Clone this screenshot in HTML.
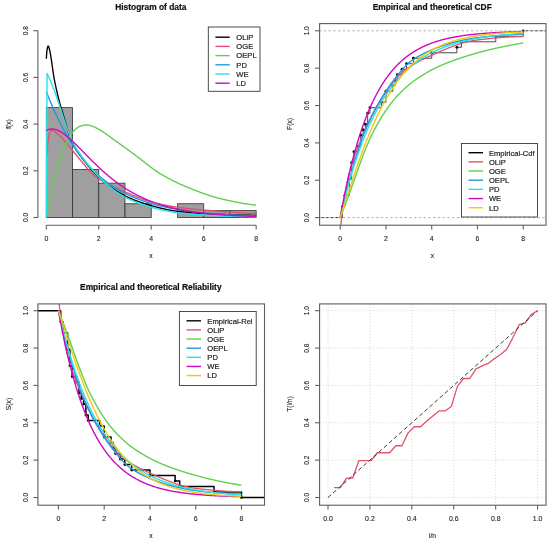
<!DOCTYPE html>
<html lang="en"><head><meta charset="utf-8"><title>Model fit plots</title>
<style>html,body{margin:0;padding:0;background:#fff}svg{display:block;filter:blur(0.35px)}</style></head>
<body>
<svg width="550" height="542" viewBox="0 0 550 542" font-family='"Liberation Sans", Arial, sans-serif'>
<rect width="550" height="542" fill="#ffffff"/>
<defs>
<clipPath id="c1"><rect x="37.9" y="23.6" width="226.6" height="201.7"/></clipPath>
<clipPath id="c2"><rect x="319.6" y="23.6" width="226.4" height="201.6"/></clipPath>
<clipPath id="c3"><rect x="37.9" y="303.9" width="226.6" height="201.3"/></clipPath>
<clipPath id="c4"><rect x="319.6" y="303.9" width="226.4" height="201.3"/></clipPath>
</defs>
<text transform="translate(150.8 10.2)" font-size="8.4" text-anchor="middle" font-weight="bold" fill="#111111" stroke="#111111" stroke-width="0.2">Histogram of data</text>
<rect x="46.3" y="107.62" width="26.23" height="109.88" fill="#9f9f9f" stroke="#303030" stroke-width="0.8"/>
<rect x="72.53" y="169.43" width="26.23" height="48.07" fill="#9f9f9f" stroke="#303030" stroke-width="0.8"/>
<rect x="98.76" y="183.16" width="26.23" height="34.34" fill="#9f9f9f" stroke="#303030" stroke-width="0.8"/>
<rect x="124.99" y="203.76" width="26.23" height="13.74" fill="#9f9f9f" stroke="#303030" stroke-width="0.8"/>
<rect x="177.45" y="203.76" width="26.23" height="13.74" fill="#9f9f9f" stroke="#303030" stroke-width="0.8"/>
<rect x="203.68" y="210.63" width="26.23" height="6.87" fill="#9f9f9f" stroke="#303030" stroke-width="0.8"/>
<rect x="229.91" y="210.63" width="26.23" height="6.87" fill="#9f9f9f" stroke="#303030" stroke-width="0.8"/>
<path d="M46.3,58.72L46.82,51.55L47.35,48.04L47.87,46.16L48.4,46.1L48.92,47.49L49.45,49.38L49.97,51.57L50.5,54.36L51.02,57.59L51.55,61.12L52.07,64.79L52.6,68.49L53.12,72.09L53.64,75.48L54.17,78.57L54.69,81.31L55.22,83.91L55.74,86.42L56.27,88.84L56.79,91.19L57.32,93.45L57.84,95.64L58.37,97.76L58.89,99.82L59.41,101.78L59.94,103.64L60.46,105.43L60.99,107.19L61.51,108.92L62.04,110.66L62.56,112.42L63.09,114.23L63.61,116.06L64.14,117.9L64.66,119.76L65.19,121.6L65.71,123.44L66.23,125.25L66.76,127.04L67.28,128.79L67.81,130.51L68.33,132.17L68.86,133.78L69.38,135.34L69.91,136.83L70.43,138.26L70.96,139.62L71.48,140.9L72.01,142.12L72.53,143.25L73.05,144.32L73.58,145.34L74.1,146.32L74.63,147.27L75.15,148.18L75.68,149.06L76.2,149.91L76.73,150.73L77.25,151.53L77.78,152.31L78.3,153.07L78.83,153.81L79.35,154.53L79.87,155.24L80.4,155.94L80.92,156.63L81.45,157.31L81.97,157.98L82.5,158.65L83.02,159.31L83.55,159.97L84.07,160.64L84.6,161.3L85.12,161.96L85.64,162.63L86.17,163.29L86.69,163.95L87.22,164.6L87.74,165.24L88.27,165.87L88.79,166.5L89.32,167.12L89.84,167.73L90.37,168.34L90.89,168.93L91.42,169.52L91.94,170.11L92.46,170.69L92.99,171.26L93.51,171.82L94.04,172.38L94.56,172.93L95.09,173.47L95.61,174.01L96.14,174.54L96.66,175.07L97.19,175.58L97.71,176.1L98.24,176.6L98.76,177.1L99.28,177.6L99.81,178.09L100.33,178.57L100.86,179.05L101.38,179.53L101.91,179.99L102.43,180.46L102.96,180.91L103.48,181.36L104.01,181.81L104.53,182.25L105.06,182.69L105.58,183.12L106.1,183.55L106.63,183.97L107.15,184.38L107.68,184.79L108.2,185.2L108.73,185.6L109.25,186L109.78,186.39L110.3,186.77L110.83,187.15L111.35,187.53L111.88,187.9L112.4,188.27L112.92,188.63L113.45,188.99L113.97,189.34L114.5,189.69L115.02,190.04L115.55,190.38L116.07,190.71L116.6,191.04L117.12,191.37L117.65,191.69L118.17,192.01L118.69,192.33L119.22,192.64L119.74,192.94L120.27,193.24L120.79,193.54L121.32,193.84L121.84,194.13L122.37,194.41L122.89,194.69L123.42,194.97L123.94,195.25L124.47,195.52L124.99,195.78L125.51,196.05L126.04,196.31L126.56,196.56L127.09,196.81L127.61,197.06L128.14,197.31L128.66,197.55L129.19,197.79L129.71,198.02L130.24,198.25L130.76,198.48L131.29,198.71L131.81,198.93L132.33,199.15L132.86,199.36L133.38,199.58L133.91,199.79L134.43,200L134.96,200.2L135.48,200.41L136.01,200.61L136.53,200.81L137.06,201L137.58,201.2L138.11,201.39L138.63,201.58L139.15,201.77L139.68,201.95L140.2,202.14L140.73,202.32L141.25,202.5L141.78,202.68L142.3,202.85L142.83,203.03L143.35,203.2L143.88,203.37L144.4,203.54L144.92,203.7L145.45,203.87L145.97,204.03L146.5,204.2L147.02,204.36L147.55,204.52L148.07,204.67L148.6,204.83L149.12,204.99L149.65,205.14L150.17,205.29L150.7,205.44L151.22,205.59L151.74,205.74L152.27,205.89L152.79,206.04L153.32,206.18L153.84,206.33L154.37,206.48L154.89,206.62L155.42,206.77L155.94,206.91L156.47,207.05L156.99,207.19L157.52,207.33L158.04,207.47L158.56,207.61L159.09,207.74L159.61,207.87L160.14,208.01L160.66,208.14L161.19,208.27L161.71,208.39L162.24,208.52L162.76,208.64L163.29,208.76L163.81,208.88L164.33,209L164.86,209.12L165.38,209.23L165.91,209.34L166.43,209.45L166.96,209.56L167.48,209.67L168.01,209.77L168.53,209.87L169.06,209.97L169.58,210.07L170.11,210.17L170.63,210.26L171.15,210.35L171.68,210.44L172.2,210.53L172.73,210.61L173.25,210.7L173.78,210.78L174.3,210.86L174.83,210.93L175.35,211.01L175.88,211.08L176.4,211.15L176.93,211.22L177.45,211.29L177.97,211.35L178.5,211.42L179.02,211.48L179.55,211.54L180.07,211.6L180.6,211.66L181.12,211.72L181.65,211.78L182.17,211.84L182.7,211.89L183.22,211.95L183.75,212L184.27,212.05L184.79,212.11L185.32,212.16L185.84,212.21L186.37,212.26L186.89,212.31L187.42,212.36L187.94,212.4L188.47,212.45L188.99,212.49L189.52,212.54L190.04,212.58L190.56,212.63L191.09,212.67L191.61,212.71L192.14,212.75L192.66,212.8L193.19,212.84L193.71,212.88L194.24,212.91L194.76,212.95L195.29,212.99L195.81,213.03L196.34,213.07L196.86,213.1L197.38,213.14L197.91,213.17L198.43,213.21L198.96,213.24L199.48,213.28L200.01,213.31L200.53,213.34L201.06,213.37L201.58,213.41L202.11,213.44L202.63,213.47L203.16,213.5L203.68,213.53L204.2,213.56L204.73,213.59L205.25,213.62L205.78,213.65L206.3,213.68L206.83,213.71L207.35,213.73L207.88,213.76L208.4,213.79L208.93,213.82L209.45,213.84L209.98,213.87L210.5,213.9L211.02,213.92L211.55,213.95L212.07,213.98L212.6,214L213.12,214.03L213.65,214.05L214.17,214.08L214.7,214.1L215.22,214.13L215.75,214.15L216.27,214.17L216.8,214.2L217.32,214.22L217.84,214.25L218.37,214.27L218.89,214.29L219.42,214.31L219.94,214.34L220.47,214.36L220.99,214.38L221.52,214.4L222.04,214.42L222.57,214.44L223.09,214.46L223.61,214.48L224.14,214.51L224.66,214.53L225.19,214.55L225.71,214.57L226.24,214.58L226.76,214.6L227.29,214.62L227.81,214.64L228.34,214.66L228.86,214.68L229.39,214.7L229.91,214.72L230.43,214.73L230.96,214.75L231.48,214.77L232.01,214.79L232.53,214.8L233.06,214.82L233.58,214.84L234.11,214.85L234.63,214.87L235.16,214.89L235.68,214.9L236.21,214.92L236.73,214.93L237.25,214.95L237.78,214.97L238.3,214.98L238.83,215L239.35,215.01L239.88,215.03L240.4,215.04L240.93,215.05L241.45,215.07L241.98,215.08L242.5,215.1L243.02,215.11L243.55,215.12L244.07,215.14L244.6,215.15L245.12,215.16L245.65,215.17L246.17,215.19L246.7,215.2L247.22,215.21L247.75,215.22L248.27,215.24L248.8,215.25L249.32,215.26L249.84,215.27L250.37,215.28L250.89,215.29L251.42,215.31L251.94,215.32L252.47,215.33L252.99,215.34L253.52,215.35L254.04,215.36L254.57,215.37L255.09,215.38L255.62,215.39L256.14,215.4" fill="none" stroke="#000000" stroke-width="1.35" stroke-linejoin="round" stroke-linecap="butt"/>
<path d="M47.09,154.45L47.61,144.76L48.13,139.58L48.66,136.35L49.18,134.17L49.71,132.85L50.23,131.77L50.75,130.94L51.28,130.47L51.8,130.42L52.33,130.5L52.85,130.66L53.37,130.88L53.9,131.14L54.42,131.43L54.95,131.73L55.47,132.03L55.99,132.35L56.52,132.72L57.04,133.12L57.57,133.57L58.09,134.05L58.61,134.55L59.14,135.08L59.66,135.62L60.19,136.17L60.71,136.73L61.23,137.28L61.76,137.82L62.28,138.36L62.81,138.9L63.33,139.46L63.85,140.03L64.38,140.61L64.9,141.19L65.42,141.79L65.95,142.39L66.47,143L67,143.61L67.52,144.23L68.04,144.86L68.57,145.5L69.09,146.15L69.62,146.81L70.14,147.48L70.66,148.14L71.19,148.81L71.71,149.47L72.24,150.12L72.76,150.77L73.28,151.41L73.81,152.06L74.33,152.7L74.86,153.34L75.38,153.98L75.9,154.63L76.43,155.27L76.95,155.9L77.48,156.54L78,157.18L78.52,157.82L79.05,158.45L79.57,159.09L80.1,159.72L80.62,160.35L81.14,160.98L81.67,161.62L82.19,162.24L82.71,162.87L83.24,163.5L83.76,164.13L84.29,164.75L84.81,165.39L85.33,166.04L85.86,166.69L86.38,167.35L86.91,168L87.43,168.65L87.95,169.3L88.48,169.93L89,170.55L89.53,171.16L90.05,171.74L90.57,172.3L91.1,172.83L91.62,173.33L92.15,173.82L92.67,174.29L93.19,174.76L93.72,175.21L94.24,175.65L94.77,176.08L95.29,176.5L95.81,176.91L96.34,177.3L96.86,177.69L97.39,178.06L97.91,178.42L98.43,178.76L98.96,179.1L99.48,179.43L100.01,179.75L100.53,180.07L101.05,180.38L101.58,180.69L102.1,181L102.62,181.3L103.15,181.6L103.67,181.89L104.2,182.18L104.72,182.47L105.24,182.75L105.77,183.03L106.29,183.3L106.82,183.57L107.34,183.84L107.86,184.11L108.39,184.37L108.91,184.63L109.44,184.89L109.96,185.14L110.48,185.4L111.01,185.65L111.53,185.89L112.06,186.14L112.58,186.38L113.1,186.62L113.63,186.86L114.15,187.1L114.68,187.34L115.2,187.57L115.72,187.81L116.25,188.04L116.77,188.27L117.3,188.5L117.82,188.73L118.34,188.95L118.87,189.18L119.39,189.41L119.91,189.63L120.44,189.86L120.96,190.08L121.49,190.31L122.01,190.53L122.53,190.76L123.06,190.98L123.58,191.21L124.11,191.43L124.63,191.66L125.15,191.89L125.68,192.11L126.2,192.34L126.73,192.57L127.25,192.8L127.77,193.03L128.3,193.26L128.82,193.48L129.35,193.71L129.87,193.94L130.39,194.17L130.92,194.4L131.44,194.63L131.97,194.85L132.49,195.08L133.01,195.31L133.54,195.53L134.06,195.76L134.59,195.98L135.11,196.2L135.63,196.42L136.16,196.64L136.68,196.86L137.21,197.08L137.73,197.29L138.25,197.51L138.78,197.72L139.3,197.93L139.82,198.14L140.35,198.34L140.87,198.54L141.4,198.75L141.92,198.94L142.44,199.14L142.97,199.33L143.49,199.53L144.02,199.71L144.54,199.9L145.06,200.08L145.59,200.26L146.11,200.44L146.64,200.61L147.16,200.78L147.68,200.95L148.21,201.11L148.73,201.27L149.26,201.42L149.78,201.58L150.3,201.72L150.83,201.87L151.35,202.01L151.88,202.14L152.4,202.28L152.92,202.41L153.45,202.55L153.97,202.68L154.5,202.81L155.02,202.94L155.54,203.07L156.07,203.19L156.59,203.32L157.11,203.44L157.64,203.56L158.16,203.68L158.69,203.8L159.21,203.92L159.73,204.04L160.26,204.15L160.78,204.27L161.31,204.38L161.83,204.49L162.35,204.6L162.88,204.71L163.4,204.82L163.93,204.93L164.45,205.03L164.97,205.13L165.5,205.24L166.02,205.34L166.55,205.44L167.07,205.54L167.59,205.63L168.12,205.73L168.64,205.82L169.17,205.92L169.69,206.01L170.21,206.1L170.74,206.19L171.26,206.28L171.79,206.36L172.31,206.45L172.83,206.54L173.36,206.62L173.88,206.7L174.4,206.78L174.93,206.86L175.45,206.94L175.98,207.02L176.5,207.09L177.02,207.17L177.55,207.24L178.07,207.31L178.6,207.38L179.12,207.45L179.64,207.52L180.17,207.59L180.69,207.66L181.22,207.73L181.74,207.79L182.26,207.86L182.79,207.92L183.31,207.99L183.84,208.05L184.36,208.11L184.88,208.18L185.41,208.24L185.93,208.3L186.46,208.36L186.98,208.42L187.5,208.47L188.03,208.53L188.55,208.59L189.08,208.64L189.6,208.7L190.12,208.76L190.65,208.81L191.17,208.86L191.7,208.92L192.22,208.97L192.74,209.02L193.27,209.07L193.79,209.13L194.31,209.18L194.84,209.23L195.36,209.28L195.89,209.33L196.41,209.38L196.93,209.43L197.46,209.47L197.98,209.52L198.51,209.57L199.03,209.62L199.55,209.67L200.08,209.71L200.6,209.76L201.13,209.81L201.65,209.85L202.17,209.9L202.7,209.94L203.22,209.99L203.75,210.03L204.27,210.08L204.79,210.12L205.32,210.17L205.84,210.21L206.37,210.26L206.89,210.3L207.41,210.35L207.94,210.39L208.46,210.44L208.99,210.48L209.51,210.52L210.03,210.57L210.56,210.61L211.08,210.66L211.6,210.7L212.13,210.74L212.65,210.79L213.18,210.83L213.7,210.87L214.22,210.92L214.75,210.96L215.27,211L215.8,211.04L216.32,211.09L216.84,211.13L217.37,211.17L217.89,211.21L218.42,211.25L218.94,211.29L219.46,211.34L219.99,211.38L220.51,211.42L221.04,211.46L221.56,211.5L222.08,211.54L222.61,211.58L223.13,211.62L223.66,211.66L224.18,211.7L224.7,211.74L225.23,211.78L225.75,211.82L226.28,211.86L226.8,211.9L227.32,211.94L227.85,211.97L228.37,212.01L228.89,212.05L229.42,212.09L229.94,212.13L230.47,212.16L230.99,212.2L231.51,212.24L232.04,212.27L232.56,212.31L233.09,212.35L233.61,212.38L234.13,212.42L234.66,212.45L235.18,212.49L235.71,212.52L236.23,212.56L236.75,212.59L237.28,212.63L237.8,212.66L238.33,212.69L238.85,212.73L239.37,212.76L239.9,212.79L240.42,212.83L240.95,212.86L241.47,212.89L241.99,212.92L242.52,212.95L243.04,212.99L243.57,213.02L244.09,213.05L244.61,213.08L245.14,213.11L245.66,213.14L246.19,213.17L246.71,213.2L247.23,213.23L247.76,213.25L248.28,213.28L248.8,213.31L249.33,213.34L249.85,213.37L250.38,213.39L250.9,213.42L251.42,213.45L251.95,213.47L252.47,213.5L253,213.52L253.52,213.55L254.04,213.57L254.57,213.6L255.09,213.62L255.62,213.65L256.14,213.67" fill="none" stroke="#DF536B" stroke-width="1.4" stroke-linejoin="round" stroke-linecap="butt"/>
<path d="M46.3,217.5L46.82,214.78L47.35,212.1L47.87,209.44L48.4,206.82L48.92,204.23L49.45,201.67L49.97,199.15L50.5,196.67L51.02,194.22L51.55,191.81L52.07,189.42L52.6,187L53.12,184.59L53.64,182.2L54.17,179.84L54.69,177.52L55.22,175.27L55.74,173.1L56.27,171.02L56.79,169.05L57.32,167.21L57.84,165.49L58.37,163.81L58.89,162.18L59.41,160.59L59.94,159.04L60.46,157.53L60.99,156.06L61.51,154.62L62.04,153.23L62.56,151.87L63.09,150.55L63.61,149.26L64.14,148L64.66,146.78L65.19,145.59L65.71,144.44L66.23,143.31L66.76,142.21L67.28,141.15L67.81,140.1L68.33,139.06L68.86,138.04L69.38,137.05L69.91,136.11L70.43,135.21L70.96,134.36L71.48,133.59L72.01,132.89L72.53,132.27L73.05,131.71L73.58,131.16L74.1,130.63L74.63,130.11L75.15,129.62L75.68,129.14L76.2,128.69L76.73,128.27L77.25,127.88L77.78,127.51L78.3,127.18L78.83,126.88L79.35,126.61L79.87,126.39L80.4,126.2L80.92,126.04L81.45,125.88L81.97,125.72L82.5,125.57L83.02,125.44L83.55,125.31L84.07,125.2L84.6,125.1L85.12,125.02L85.64,124.97L86.17,124.93L86.69,124.92L87.22,124.93L87.74,124.98L88.27,125.06L88.79,125.16L89.32,125.28L89.84,125.42L90.37,125.58L90.89,125.75L91.42,125.93L91.94,126.11L92.46,126.3L92.99,126.48L93.51,126.67L94.04,126.86L94.56,127.07L95.09,127.31L95.61,127.56L96.14,127.82L96.66,128.1L97.19,128.39L97.71,128.69L98.24,129L98.76,129.31L99.28,129.62L99.81,129.94L100.33,130.25L100.86,130.56L101.38,130.88L101.91,131.2L102.43,131.54L102.96,131.87L103.48,132.22L104.01,132.57L104.53,132.92L105.06,133.28L105.58,133.64L106.1,134.01L106.63,134.38L107.15,134.76L107.68,135.13L108.2,135.51L108.73,135.89L109.25,136.28L109.78,136.66L110.3,137.05L110.83,137.43L111.35,137.82L111.88,138.2L112.4,138.59L112.92,138.97L113.45,139.36L113.97,139.74L114.5,140.12L115.02,140.49L115.55,140.87L116.07,141.24L116.6,141.61L117.12,141.99L117.65,142.36L118.17,142.74L118.69,143.11L119.22,143.49L119.74,143.87L120.27,144.24L120.79,144.62L121.32,145L121.84,145.38L122.37,145.75L122.89,146.13L123.42,146.51L123.94,146.89L124.47,147.27L124.99,147.65L125.51,148.03L126.04,148.41L126.56,148.79L127.09,149.18L127.61,149.56L128.14,149.94L128.66,150.32L129.19,150.7L129.71,151.09L130.24,151.47L130.76,151.85L131.29,152.24L131.81,152.62L132.33,153L132.86,153.39L133.38,153.77L133.91,154.15L134.43,154.54L134.96,154.92L135.48,155.31L136.01,155.7L136.53,156.09L137.06,156.48L137.58,156.88L138.11,157.28L138.63,157.69L139.15,158.09L139.68,158.5L140.2,158.9L140.73,159.31L141.25,159.73L141.78,160.14L142.3,160.55L142.83,160.96L143.35,161.38L143.88,161.79L144.4,162.2L144.92,162.62L145.45,163.03L145.97,163.44L146.5,163.86L147.02,164.27L147.55,164.68L148.07,165.08L148.6,165.49L149.12,165.9L149.65,166.3L150.17,166.7L150.7,167.1L151.22,167.49L151.74,167.88L152.27,168.27L152.79,168.66L153.32,169.04L153.84,169.42L154.37,169.79L154.89,170.17L155.42,170.53L155.94,170.89L156.47,171.25L156.99,171.6L157.52,171.95L158.04,172.29L158.56,172.63L159.09,172.96L159.61,173.28L160.14,173.6L160.66,173.92L161.19,174.23L161.71,174.54L162.24,174.85L162.76,175.15L163.29,175.45L163.81,175.75L164.33,176.05L164.86,176.35L165.38,176.64L165.91,176.94L166.43,177.23L166.96,177.52L167.48,177.8L168.01,178.09L168.53,178.37L169.06,178.65L169.58,178.92L170.11,179.2L170.63,179.47L171.15,179.74L171.68,180.01L172.2,180.28L172.73,180.55L173.25,180.81L173.78,181.07L174.3,181.33L174.83,181.59L175.35,181.84L175.88,182.1L176.4,182.35L176.93,182.6L177.45,182.85L177.97,183.09L178.5,183.34L179.02,183.58L179.55,183.82L180.07,184.06L180.6,184.29L181.12,184.53L181.65,184.76L182.17,184.99L182.7,185.22L183.22,185.45L183.75,185.67L184.27,185.89L184.79,186.12L185.32,186.34L185.84,186.55L186.37,186.77L186.89,186.99L187.42,187.2L187.94,187.42L188.47,187.64L188.99,187.85L189.52,188.07L190.04,188.28L190.56,188.49L191.09,188.7L191.61,188.92L192.14,189.13L192.66,189.34L193.19,189.55L193.71,189.75L194.24,189.96L194.76,190.17L195.29,190.37L195.81,190.58L196.34,190.78L196.86,190.99L197.38,191.19L197.91,191.39L198.43,191.59L198.96,191.79L199.48,191.98L200.01,192.18L200.53,192.38L201.06,192.57L201.58,192.76L202.11,192.95L202.63,193.14L203.16,193.33L203.68,193.52L204.2,193.71L204.73,193.89L205.25,194.07L205.78,194.26L206.3,194.44L206.83,194.61L207.35,194.79L207.88,194.97L208.4,195.14L208.93,195.31L209.45,195.48L209.98,195.65L210.5,195.82L211.02,195.98L211.55,196.15L212.07,196.31L212.6,196.47L213.12,196.63L213.65,196.78L214.17,196.94L214.7,197.09L215.22,197.24L215.75,197.39L216.27,197.54L216.8,197.68L217.32,197.82L217.84,197.96L218.37,198.1L218.89,198.24L219.42,198.37L219.94,198.5L220.47,198.63L220.99,198.76L221.52,198.88L222.04,199.01L222.57,199.13L223.09,199.25L223.61,199.38L224.14,199.5L224.66,199.62L225.19,199.74L225.71,199.86L226.24,199.98L226.76,200.1L227.29,200.21L227.81,200.33L228.34,200.45L228.86,200.56L229.39,200.68L229.91,200.79L230.43,200.91L230.96,201.02L231.48,201.13L232.01,201.24L232.53,201.35L233.06,201.46L233.58,201.57L234.11,201.68L234.63,201.79L235.16,201.89L235.68,202L236.21,202.1L236.73,202.2L237.25,202.3L237.78,202.4L238.3,202.5L238.83,202.6L239.35,202.7L239.88,202.8L240.4,202.89L240.93,202.98L241.45,203.08L241.98,203.17L242.5,203.26L243.02,203.35L243.55,203.44L244.07,203.52L244.6,203.61L245.12,203.69L245.65,203.77L246.17,203.86L246.7,203.94L247.22,204.01L247.75,204.09L248.27,204.17L248.8,204.24L249.32,204.32L249.84,204.39L250.37,204.46L250.89,204.53L251.42,204.59L251.94,204.66L252.47,204.72L252.99,204.78L253.52,204.85L254.04,204.9L254.57,204.96L255.09,205.02L255.62,205.07L256.14,205.12" fill="none" stroke="#61D04F" stroke-width="1.4" stroke-linejoin="round" stroke-linecap="butt"/>
<path d="M46.3,91.41L46.82,92.79L47.35,94.15L47.87,95.5L48.4,96.84L48.92,98.16L49.45,99.46L49.97,100.75L50.5,102.03L51.02,103.29L51.55,104.54L52.07,105.78L52.6,107L53.12,108.21L53.64,109.41L54.17,110.59L54.69,111.76L55.22,112.92L55.74,114.06L56.27,115.19L56.79,116.31L57.32,117.42L57.84,118.51L58.37,119.6L58.89,120.67L59.41,121.73L59.94,122.77L60.46,123.81L60.99,124.83L61.51,125.85L62.04,126.85L62.56,127.84L63.09,128.82L63.61,129.79L64.14,130.75L64.66,131.7L65.19,132.64L65.71,133.57L66.23,134.49L66.76,135.4L67.28,136.29L67.81,137.18L68.33,138.06L68.86,138.93L69.38,139.79L69.91,140.64L70.43,141.48L70.96,142.31L71.48,143.13L72.01,143.95L72.53,144.75L73.05,145.55L73.58,146.34L74.1,147.11L74.63,147.88L75.15,148.65L75.68,149.4L76.2,150.14L76.73,150.88L77.25,151.61L77.78,152.33L78.3,153.04L78.83,153.75L79.35,154.45L79.87,155.14L80.4,155.82L80.92,156.49L81.45,157.16L81.97,157.82L82.5,158.47L83.02,159.12L83.55,159.76L84.07,160.39L84.6,161.01L85.12,161.63L85.64,162.24L86.17,162.85L86.69,163.45L87.22,164.04L87.74,164.62L88.27,165.2L88.79,165.77L89.32,166.34L89.84,166.9L90.37,167.45L90.89,168L91.42,168.54L91.94,169.08L92.46,169.61L92.99,170.13L93.51,170.65L94.04,171.16L94.56,171.67L95.09,172.17L95.61,172.66L96.14,173.16L96.66,173.64L97.19,174.12L97.71,174.59L98.24,175.06L98.76,175.53L99.28,175.99L99.81,176.44L100.33,176.89L100.86,177.34L101.38,177.77L101.91,178.21L102.43,178.64L102.96,179.06L103.48,179.48L104.01,179.9L104.53,180.31L105.06,180.72L105.58,181.12L106.1,181.52L106.63,181.91L107.15,182.3L107.68,182.69L108.2,183.07L108.73,183.44L109.25,183.82L109.78,184.19L110.3,184.55L110.83,184.91L111.35,185.27L111.88,185.62L112.4,185.97L112.92,186.31L113.45,186.65L113.97,186.99L114.5,187.33L115.02,187.66L115.55,187.98L116.07,188.31L116.6,188.62L117.12,188.94L117.65,189.25L118.17,189.56L118.69,189.87L119.22,190.17L119.74,190.47L120.27,190.76L120.79,191.06L121.32,191.35L121.84,191.63L122.37,191.92L122.89,192.2L123.42,192.47L123.94,192.75L124.47,193.02L124.99,193.28L125.51,193.55L126.04,193.81L126.56,194.07L127.09,194.33L127.61,194.58L128.14,194.83L128.66,195.08L129.19,195.32L129.71,195.57L130.24,195.81L130.76,196.04L131.29,196.28L131.81,196.51L132.33,196.74L132.86,196.97L133.38,197.19L133.91,197.41L134.43,197.63L134.96,197.85L135.48,198.07L136.01,198.28L136.53,198.49L137.06,198.7L137.58,198.9L138.11,199.11L138.63,199.31L139.15,199.51L139.68,199.7L140.2,199.9L140.73,200.09L141.25,200.28L141.78,200.47L142.3,200.66L142.83,200.84L143.35,201.02L143.88,201.2L144.4,201.38L144.92,201.56L145.45,201.73L145.97,201.9L146.5,202.07L147.02,202.24L147.55,202.41L148.07,202.58L148.6,202.74L149.12,202.9L149.65,203.06L150.17,203.22L150.7,203.37L151.22,203.53L151.74,203.68L152.27,203.83L152.79,203.98L153.32,204.13L153.84,204.28L154.37,204.42L154.89,204.56L155.42,204.71L155.94,204.85L156.47,204.98L156.99,205.12L157.52,205.26L158.04,205.39L158.56,205.52L159.09,205.65L159.61,205.78L160.14,205.91L160.66,206.04L161.19,206.16L161.71,206.29L162.24,206.41L162.76,206.53L163.29,206.65L163.81,206.77L164.33,206.89L164.86,207L165.38,207.12L165.91,207.23L166.43,207.34L166.96,207.46L167.48,207.57L168.01,207.67L168.53,207.78L169.06,207.89L169.58,207.99L170.11,208.1L170.63,208.2L171.15,208.3L171.68,208.4L172.2,208.5L172.73,208.6L173.25,208.7L173.78,208.79L174.3,208.89L174.83,208.98L175.35,209.08L175.88,209.17L176.4,209.26L176.93,209.35L177.45,209.44L177.97,209.53L178.5,209.61L179.02,209.7L179.55,209.79L180.07,209.87L180.6,209.95L181.12,210.04L181.65,210.12L182.17,210.2L182.7,210.28L183.22,210.36L183.75,210.44L184.27,210.51L184.79,210.59L185.32,210.67L185.84,210.74L186.37,210.81L186.89,210.89L187.42,210.96L187.94,211.03L188.47,211.1L188.99,211.17L189.52,211.24L190.04,211.31L190.56,211.38L191.09,211.44L191.61,211.51L192.14,211.58L192.66,211.64L193.19,211.7L193.71,211.77L194.24,211.83L194.76,211.89L195.29,211.95L195.81,212.02L196.34,212.08L196.86,212.13L197.38,212.19L197.91,212.25L198.43,212.31L198.96,212.37L199.48,212.42L200.01,212.48L200.53,212.53L201.06,212.59L201.58,212.64L202.11,212.69L202.63,212.75L203.16,212.8L203.68,212.85L204.2,212.9L204.73,212.95L205.25,213L205.78,213.05L206.3,213.1L206.83,213.15L207.35,213.19L207.88,213.24L208.4,213.29L208.93,213.33L209.45,213.38L209.98,213.42L210.5,213.47L211.02,213.51L211.55,213.56L212.07,213.6L212.6,213.64L213.12,213.68L213.65,213.73L214.17,213.77L214.7,213.81L215.22,213.85L215.75,213.89L216.27,213.93L216.8,213.97L217.32,214.01L217.84,214.04L218.37,214.08L218.89,214.12L219.42,214.16L219.94,214.19L220.47,214.23L220.99,214.27L221.52,214.3L222.04,214.34L222.57,214.37L223.09,214.4L223.61,214.44L224.14,214.47L224.66,214.5L225.19,214.54L225.71,214.57L226.24,214.6L226.76,214.63L227.29,214.67L227.81,214.7L228.34,214.73L228.86,214.76L229.39,214.79L229.91,214.82L230.43,214.85L230.96,214.88L231.48,214.9L232.01,214.93L232.53,214.96L233.06,214.99L233.58,215.02L234.11,215.04L234.63,215.07L235.16,215.1L235.68,215.12L236.21,215.15L236.73,215.17L237.25,215.2L237.78,215.22L238.3,215.25L238.83,215.27L239.35,215.3L239.88,215.32L240.4,215.35L240.93,215.37L241.45,215.39L241.98,215.42L242.5,215.44L243.02,215.46L243.55,215.48L244.07,215.51L244.6,215.53L245.12,215.55L245.65,215.57L246.17,215.59L246.7,215.61L247.22,215.63L247.75,215.65L248.27,215.67L248.8,215.69L249.32,215.71L249.84,215.73L250.37,215.75L250.89,215.77L251.42,215.79L251.94,215.81L252.47,215.83L252.99,215.85L253.52,215.86L254.04,215.88L254.57,215.9L255.09,215.92L255.62,215.93L256.14,215.95" fill="none" stroke="#2297E6" stroke-width="1.4" stroke-linejoin="round" stroke-linecap="butt"/>
<path d="M46.3,217.5L47.09,73.43L47.61,74.5L48.31,75.99L49.01,77.53L49.7,79.13L50.4,80.77L51.1,82.46L51.8,84.18L52.49,85.94L53.19,87.72L53.89,89.51L54.59,91.34L55.28,93.22L55.98,95.16L56.68,97.14L57.38,99.15L58.07,101.2L58.77,103.26L59.47,105.33L60.17,107.41L60.86,109.52L61.56,111.71L62.26,113.93L62.95,116.17L63.65,118.39L64.35,120.56L65.05,122.66L65.74,124.66L66.44,126.61L67.14,128.54L67.84,130.43L68.53,132.28L69.23,134.08L69.93,135.81L70.63,137.48L71.32,139.07L72.02,140.57L72.72,141.99L73.42,143.33L74.11,144.62L74.81,145.86L75.51,147.05L76.21,148.2L76.9,149.31L77.6,150.38L78.3,151.43L79,152.45L79.69,153.45L80.39,154.42L81.09,155.38L81.79,156.33L82.48,157.27L83.18,158.2L83.88,159.12L84.57,160.05L85.27,160.97L85.97,161.89L86.67,162.8L87.36,163.69L88.06,164.57L88.76,165.43L89.46,166.29L90.15,167.13L90.85,167.96L91.55,168.77L92.25,169.58L92.94,170.38L93.64,171.16L94.34,171.94L95.04,172.7L95.73,173.46L96.43,174.21L97.13,174.94L97.83,175.67L98.52,176.39L99.22,177.11L99.92,177.81L100.62,178.51L101.31,179.2L102.01,179.88L102.71,180.55L103.41,181.21L104.1,181.86L104.8,182.5L105.5,183.13L106.19,183.76L106.89,184.37L107.59,184.98L108.29,185.57L108.98,186.16L109.68,186.74L110.38,187.3L111.08,187.86L111.77,188.41L112.47,188.95L113.17,189.48L113.87,190L114.56,190.51L115.26,191.01L115.96,191.5L116.66,191.98L117.35,192.46L118.05,192.92L118.75,193.38L119.45,193.82L120.14,194.26L120.84,194.69L121.54,195.11L122.24,195.52L122.93,195.93L123.63,196.32L124.33,196.71L125.03,197.09L125.72,197.46L126.42,197.82L127.12,198.18L127.81,198.52L128.51,198.87L129.21,199.2L129.91,199.53L130.6,199.85L131.3,200.16L132,200.47L132.7,200.78L133.39,201.07L134.09,201.37L134.79,201.65L135.49,201.93L136.18,202.21L136.88,202.48L137.58,202.75L138.28,203.02L138.97,203.27L139.67,203.53L140.37,203.78L141.07,204.03L141.76,204.27L142.46,204.51L143.16,204.74L143.86,204.98L144.55,205.2L145.25,205.43L145.95,205.65L146.65,205.87L147.34,206.08L148.04,206.3L148.74,206.5L149.43,206.71L150.13,206.91L150.83,207.11L151.53,207.31L152.22,207.51L152.92,207.7L153.62,207.89L154.32,208.08L155.01,208.27L155.71,208.46L156.41,208.64L157.11,208.82L157.8,208.99L158.5,209.17L159.2,209.34L159.9,209.51L160.59,209.67L161.29,209.84L161.99,209.99L162.69,210.15L163.38,210.3L164.08,210.45L164.78,210.6L165.48,210.74L166.17,210.88L166.87,211.02L167.57,211.15L168.27,211.28L168.96,211.41L169.66,211.53L170.36,211.65L171.05,211.77L171.75,211.89L172.45,212L173.15,212.11L173.84,212.21L174.54,212.32L175.24,212.42L175.94,212.51L176.63,212.61L177.33,212.7L178.03,212.79L178.73,212.87L179.42,212.96L180.12,213.04L180.82,213.12L181.52,213.2L182.21,213.27L182.91,213.35L183.61,213.42L184.31,213.49L185,213.56L185.7,213.63L186.4,213.7L187.1,213.76L187.79,213.83L188.49,213.89L189.19,213.95L189.89,214.01L190.58,214.07L191.28,214.13L191.98,214.18L192.67,214.24L193.37,214.29L194.07,214.35L194.77,214.4L195.46,214.45L196.16,214.5L196.86,214.55L197.56,214.6L198.25,214.65L198.95,214.7L199.65,214.74L200.35,214.79L201.04,214.84L201.74,214.88L202.44,214.92L203.14,214.97L203.83,215.01L204.53,215.05L205.23,215.09L205.93,215.14L206.62,215.18L207.32,215.21L208.02,215.25L208.72,215.29L209.41,215.33L210.11,215.37L210.81,215.4L211.51,215.44L212.2,215.47L212.9,215.51L213.6,215.54L214.29,215.57L214.99,215.61L215.69,215.64L216.39,215.67L217.08,215.7L217.78,215.73L218.48,215.76L219.18,215.79L219.87,215.82L220.57,215.85L221.27,215.87L221.97,215.9L222.66,215.93L223.36,215.96L224.06,215.98L224.76,216.01L225.45,216.03L226.15,216.06L226.85,216.08L227.55,216.11L228.24,216.13L228.94,216.15L229.64,216.17L230.34,216.2L231.03,216.22L231.73,216.24L232.43,216.26L233.13,216.28L233.82,216.3L234.52,216.32L235.22,216.34L235.91,216.36L236.61,216.38L237.31,216.4L238.01,216.42L238.7,216.44L239.4,216.45L240.1,216.47L240.8,216.49L241.49,216.5L242.19,216.52L242.89,216.54L243.59,216.55L244.28,216.57L244.98,216.58L245.68,216.6L246.38,216.61L247.07,216.63L247.77,216.64L248.47,216.66L249.17,216.67L249.86,216.69L250.56,216.7L251.26,216.71L251.96,216.73L252.65,216.74L253.35,216.75L254.05,216.76L254.75,216.78L255.44,216.79L256.14,216.8" fill="none" stroke="#28E2E5" stroke-width="1.4" stroke-linejoin="round" stroke-linecap="butt"/>
<path d="M46.3,130.58L46.82,130.29L47.35,130.03L47.87,129.81L48.4,129.62L48.92,129.45L49.45,129.32L49.97,129.21L50.5,129.13L51.02,129.07L51.55,129.04L52.07,129.04L52.6,129.06L53.12,129.1L53.64,129.17L54.17,129.25L54.69,129.36L55.22,129.49L55.74,129.63L56.27,129.8L56.79,129.98L57.32,130.18L57.84,130.4L58.37,130.63L58.89,130.88L59.41,131.15L59.94,131.43L60.46,131.72L60.99,132.02L61.51,132.34L62.04,132.68L62.56,133.02L63.09,133.37L63.61,133.74L64.14,134.12L64.66,134.5L65.19,134.9L65.71,135.3L66.23,135.72L66.76,136.14L67.28,136.57L67.81,137.01L68.33,137.46L68.86,137.91L69.38,138.37L69.91,138.83L70.43,139.3L70.96,139.78L71.48,140.26L72.01,140.75L72.53,141.24L73.05,141.74L73.58,142.24L74.1,142.74L74.63,143.25L75.15,143.76L75.68,144.28L76.2,144.79L76.73,145.31L77.25,145.84L77.78,146.36L78.3,146.89L78.83,147.42L79.35,147.95L79.87,148.48L80.4,149.01L80.92,149.54L81.45,150.08L81.97,150.61L82.5,151.15L83.02,151.68L83.55,152.22L84.07,152.76L84.6,153.29L85.12,153.83L85.64,154.37L86.17,154.9L86.69,155.43L87.22,155.97L87.74,156.5L88.27,157.03L88.79,157.56L89.32,158.09L89.84,158.62L90.37,159.15L90.89,159.67L91.42,160.2L91.94,160.72L92.46,161.24L92.99,161.76L93.51,162.28L94.04,162.79L94.56,163.3L95.09,163.81L95.61,164.32L96.14,164.83L96.66,165.33L97.19,165.83L97.71,166.33L98.24,166.83L98.76,167.32L99.28,167.81L99.81,168.3L100.33,168.79L100.86,169.27L101.38,169.75L101.91,170.23L102.43,170.7L102.96,171.17L103.48,171.64L104.01,172.11L104.53,172.57L105.06,173.03L105.58,173.49L106.1,173.94L106.63,174.39L107.15,174.84L107.68,175.28L108.2,175.73L108.73,176.16L109.25,176.6L109.78,177.03L110.3,177.46L110.83,177.88L111.35,178.31L111.88,178.73L112.4,179.14L112.92,179.55L113.45,179.96L113.97,180.37L114.5,180.77L115.02,181.17L115.55,181.57L116.07,181.96L116.6,182.35L117.12,182.74L117.65,183.12L118.17,183.5L118.69,183.88L119.22,184.25L119.74,184.62L120.27,184.99L120.79,185.35L121.32,185.71L121.84,186.07L122.37,186.43L122.89,186.78L123.42,187.13L123.94,187.47L124.47,187.81L124.99,188.15L125.51,188.49L126.04,188.82L126.56,189.15L127.09,189.47L127.61,189.8L128.14,190.12L128.66,190.43L129.19,190.75L129.71,191.06L130.24,191.37L130.76,191.67L131.29,191.97L131.81,192.27L132.33,192.57L132.86,192.86L133.38,193.15L133.91,193.44L134.43,193.72L134.96,194L135.48,194.28L136.01,194.56L136.53,194.83L137.06,195.1L137.58,195.37L138.11,195.63L138.63,195.89L139.15,196.15L139.68,196.41L140.2,196.66L140.73,196.91L141.25,197.16L141.78,197.41L142.3,197.65L142.83,197.89L143.35,198.13L143.88,198.37L144.4,198.6L144.92,198.83L145.45,199.06L145.97,199.28L146.5,199.51L147.02,199.73L147.55,199.94L148.07,200.16L148.6,200.37L149.12,200.58L149.65,200.79L150.17,201L150.7,201.2L151.22,201.41L151.74,201.61L152.27,201.8L152.79,202L153.32,202.19L153.84,202.38L154.37,202.57L154.89,202.76L155.42,202.94L155.94,203.13L156.47,203.31L156.99,203.48L157.52,203.66L158.04,203.83L158.56,204.01L159.09,204.18L159.61,204.35L160.14,204.51L160.66,204.68L161.19,204.84L161.71,205L162.24,205.16L162.76,205.32L163.29,205.47L163.81,205.62L164.33,205.77L164.86,205.92L165.38,206.07L165.91,206.22L166.43,206.36L166.96,206.51L167.48,206.65L168.01,206.79L168.53,206.92L169.06,207.06L169.58,207.19L170.11,207.33L170.63,207.46L171.15,207.59L171.68,207.72L172.2,207.84L172.73,207.97L173.25,208.09L173.78,208.21L174.3,208.33L174.83,208.45L175.35,208.57L175.88,208.69L176.4,208.8L176.93,208.92L177.45,209.03L177.97,209.14L178.5,209.25L179.02,209.36L179.55,209.46L180.07,209.57L180.6,209.67L181.12,209.78L181.65,209.88L182.17,209.98L182.7,210.08L183.22,210.17L183.75,210.27L184.27,210.37L184.79,210.46L185.32,210.55L185.84,210.64L186.37,210.74L186.89,210.83L187.42,210.91L187.94,211L188.47,211.09L188.99,211.17L189.52,211.26L190.04,211.34L190.56,211.42L191.09,211.5L191.61,211.58L192.14,211.66L192.66,211.74L193.19,211.82L193.71,211.89L194.24,211.97L194.76,212.04L195.29,212.11L195.81,212.19L196.34,212.26L196.86,212.33L197.38,212.4L197.91,212.47L198.43,212.53L198.96,212.6L199.48,212.67L200.01,212.73L200.53,212.8L201.06,212.86L201.58,212.92L202.11,212.98L202.63,213.04L203.16,213.1L203.68,213.16L204.2,213.22L204.73,213.28L205.25,213.34L205.78,213.39L206.3,213.45L206.83,213.51L207.35,213.56L207.88,213.61L208.4,213.67L208.93,213.72L209.45,213.77L209.98,213.82L210.5,213.87L211.02,213.92L211.55,213.97L212.07,214.02L212.6,214.06L213.12,214.11L213.65,214.16L214.17,214.2L214.7,214.25L215.22,214.29L215.75,214.34L216.27,214.38L216.8,214.42L217.32,214.47L217.84,214.51L218.37,214.55L218.89,214.59L219.42,214.63L219.94,214.67L220.47,214.71L220.99,214.75L221.52,214.78L222.04,214.82L222.57,214.86L223.09,214.89L223.61,214.93L224.14,214.97L224.66,215L225.19,215.04L225.71,215.07L226.24,215.1L226.76,215.14L227.29,215.17L227.81,215.2L228.34,215.23L228.86,215.26L229.39,215.3L229.91,215.33L230.43,215.36L230.96,215.39L231.48,215.42L232.01,215.44L232.53,215.47L233.06,215.5L233.58,215.53L234.11,215.56L234.63,215.58L235.16,215.61L235.68,215.64L236.21,215.66L236.73,215.69L237.25,215.71L237.78,215.74L238.3,215.76L238.83,215.79L239.35,215.81L239.88,215.84L240.4,215.86L240.93,215.88L241.45,215.9L241.98,215.93L242.5,215.95L243.02,215.97L243.55,215.99L244.07,216.01L244.6,216.03L245.12,216.05L245.65,216.07L246.17,216.09L246.7,216.11L247.22,216.13L247.75,216.15L248.27,216.17L248.8,216.19L249.32,216.21L249.84,216.23L250.37,216.25L250.89,216.26L251.42,216.28L251.94,216.3L252.47,216.31L252.99,216.33L253.52,216.35L254.04,216.36L254.57,216.38L255.09,216.4L255.62,216.41L256.14,216.43" fill="none" stroke="#CD0BBC" stroke-width="1.4" stroke-linejoin="round" stroke-linecap="butt"/>
<line x1="46.3" y1="225.3" x2="256.14" y2="225.3" stroke="#5e5e5e" stroke-width="1.1"/>
<line x1="46.3" y1="225.3" x2="46.3" y2="229.6" stroke="#5e5e5e" stroke-width="1.1"/>
<text transform="translate(46.3 240.6) scale(0.9 1)" font-size="7.7" text-anchor="middle" fill="#222222" stroke="#222222" stroke-width="0.12">0</text>
<line x1="98.76" y1="225.3" x2="98.76" y2="229.6" stroke="#5e5e5e" stroke-width="1.1"/>
<text transform="translate(98.76 240.6) scale(0.9 1)" font-size="7.7" text-anchor="middle" fill="#222222" stroke="#222222" stroke-width="0.12">2</text>
<line x1="151.22" y1="225.3" x2="151.22" y2="229.6" stroke="#5e5e5e" stroke-width="1.1"/>
<text transform="translate(151.22 240.6) scale(0.9 1)" font-size="7.7" text-anchor="middle" fill="#222222" stroke="#222222" stroke-width="0.12">4</text>
<line x1="203.68" y1="225.3" x2="203.68" y2="229.6" stroke="#5e5e5e" stroke-width="1.1"/>
<text transform="translate(203.68 240.6) scale(0.9 1)" font-size="7.7" text-anchor="middle" fill="#222222" stroke="#222222" stroke-width="0.12">6</text>
<line x1="256.14" y1="225.3" x2="256.14" y2="229.6" stroke="#5e5e5e" stroke-width="1.1"/>
<text transform="translate(256.14 240.6) scale(0.9 1)" font-size="7.7" text-anchor="middle" fill="#222222" stroke="#222222" stroke-width="0.12">8</text>
<line x1="37.9" y1="217.5" x2="37.9" y2="30.7" stroke="#5e5e5e" stroke-width="1.1"/>
<line x1="37.9" y1="217.5" x2="33.4" y2="217.5" stroke="#5e5e5e" stroke-width="1.1"/>
<text transform="translate(27.7 217.5) rotate(-90) scale(0.9 1)" font-size="7.3" text-anchor="middle" fill="#222222" stroke="#222222" stroke-width="0.12">0.0</text>
<line x1="37.9" y1="170.8" x2="33.4" y2="170.8" stroke="#5e5e5e" stroke-width="1.1"/>
<text transform="translate(27.7 170.8) rotate(-90) scale(0.9 1)" font-size="7.3" text-anchor="middle" fill="#222222" stroke="#222222" stroke-width="0.12">0.2</text>
<line x1="37.9" y1="124.1" x2="33.4" y2="124.1" stroke="#5e5e5e" stroke-width="1.1"/>
<text transform="translate(27.7 124.1) rotate(-90) scale(0.9 1)" font-size="7.3" text-anchor="middle" fill="#222222" stroke="#222222" stroke-width="0.12">0.4</text>
<line x1="37.9" y1="77.4" x2="33.4" y2="77.4" stroke="#5e5e5e" stroke-width="1.1"/>
<text transform="translate(27.7 77.4) rotate(-90) scale(0.9 1)" font-size="7.3" text-anchor="middle" fill="#222222" stroke="#222222" stroke-width="0.12">0.6</text>
<line x1="37.9" y1="30.7" x2="33.4" y2="30.7" stroke="#5e5e5e" stroke-width="1.1"/>
<text transform="translate(27.7 30.7) rotate(-90) scale(0.9 1)" font-size="7.3" text-anchor="middle" fill="#222222" stroke="#222222" stroke-width="0.12">0.8</text>
<text transform="translate(151 257.5) scale(0.9 1)" font-size="7.5" text-anchor="middle" fill="#222222" stroke="#222222" stroke-width="0.12">x</text>
<text transform="translate(10.8 124) rotate(-90) scale(0.9 1)" font-size="7.5" text-anchor="middle" fill="#222222" stroke="#222222" stroke-width="0.12">f(x)</text>
<rect x="208.3" y="27" width="51.7" height="64.3" fill="#ffffff" stroke="#3a3a3a" stroke-width="0.9"/>
<line x1="215.4" y1="37.2" x2="229.7" y2="37.2" stroke="#000000" stroke-width="1.4"/>
<text transform="translate(236.3 40) scale(0.94 1)" font-size="8.1" fill="#222" stroke="#222" stroke-width="0.2">OLiP</text>
<line x1="215.4" y1="46.4" x2="229.7" y2="46.4" stroke="#DF536B" stroke-width="1.4"/>
<text transform="translate(236.3 49.2) scale(0.94 1)" font-size="8.1" fill="#222" stroke="#222" stroke-width="0.2">OGE</text>
<line x1="215.4" y1="55.6" x2="229.7" y2="55.6" stroke="#61D04F" stroke-width="1.4"/>
<text transform="translate(236.3 58.4) scale(0.94 1)" font-size="8.1" fill="#222" stroke="#222" stroke-width="0.2">OEPL</text>
<line x1="215.4" y1="64.8" x2="229.7" y2="64.8" stroke="#2297E6" stroke-width="1.4"/>
<text transform="translate(236.3 67.6) scale(0.94 1)" font-size="8.1" fill="#222" stroke="#222" stroke-width="0.2">PD</text>
<line x1="215.4" y1="74" x2="229.7" y2="74" stroke="#28E2E5" stroke-width="1.4"/>
<text transform="translate(236.3 76.8) scale(0.94 1)" font-size="8.1" fill="#222" stroke="#222" stroke-width="0.2">WE</text>
<line x1="215.4" y1="83.2" x2="229.7" y2="83.2" stroke="#CD0BBC" stroke-width="1.4"/>
<text transform="translate(236.3 86) scale(0.94 1)" font-size="8.1" fill="#222" stroke="#222" stroke-width="0.2">LD</text>
<text transform="translate(432.2 10.2)" font-size="8.4" text-anchor="middle" font-weight="bold" fill="#111111" stroke="#111111" stroke-width="0.2">Empirical and theoretical CDF</text>
<g clip-path="url(#c2)">
<path d="M342.49,217.6L342.49,206.61L344.78,206.61L344.78,195.62L349.35,195.62L349.35,179.14L351.64,179.14L351.64,162.66L353.93,162.66L353.93,151.67L358.5,151.67L358.5,146.18L360.79,146.18L360.79,135.19L363.08,135.19L363.08,129.69L365.37,129.69L365.37,124.2L367.66,124.2L367.66,113.21L369.94,113.21L369.94,107.72L381.38,107.72L381.38,102.22L385.96,102.22L385.96,91.24L392.82,91.24L392.82,85.74L395.11,85.74L395.11,80.25L397.4,80.25L397.4,74.75L401.98,74.75L401.98,69.26L406.55,69.26L406.55,63.76L413.42,63.76L413.42,58.27L431.72,58.27L431.72,52.78L456.89,52.78L456.89,47.28L461.46,47.28L461.46,41.79L495.78,41.79L495.78,36.29L523.24,36.29L523.24,30.8" fill="none" stroke="#1a1a1a" stroke-width="0.8" stroke-linejoin="round" stroke-linecap="butt"/>
<circle cx="342.49" cy="206.61" r="1.4" fill="#000"/>
<circle cx="344.78" cy="195.62" r="1.4" fill="#000"/>
<circle cx="349.35" cy="179.14" r="1.4" fill="#000"/>
<circle cx="351.64" cy="162.66" r="1.4" fill="#000"/>
<circle cx="353.93" cy="151.67" r="1.4" fill="#000"/>
<circle cx="358.5" cy="146.18" r="1.4" fill="#000"/>
<circle cx="360.79" cy="135.19" r="1.4" fill="#000"/>
<circle cx="363.08" cy="129.69" r="1.4" fill="#000"/>
<circle cx="365.37" cy="124.2" r="1.4" fill="#000"/>
<circle cx="367.66" cy="113.21" r="1.4" fill="#000"/>
<circle cx="369.94" cy="107.72" r="1.4" fill="#000"/>
<circle cx="381.38" cy="102.22" r="1.4" fill="#000"/>
<circle cx="385.96" cy="91.24" r="1.4" fill="#000"/>
<circle cx="392.82" cy="85.74" r="1.4" fill="#000"/>
<circle cx="395.11" cy="80.25" r="1.4" fill="#000"/>
<circle cx="397.4" cy="74.75" r="1.4" fill="#000"/>
<circle cx="401.98" cy="69.26" r="1.4" fill="#000"/>
<circle cx="406.55" cy="63.76" r="1.4" fill="#000"/>
<circle cx="413.42" cy="58.27" r="1.4" fill="#000"/>
<circle cx="431.72" cy="52.78" r="1.4" fill="#000"/>
<circle cx="456.89" cy="47.28" r="1.4" fill="#000"/>
<circle cx="461.46" cy="41.79" r="1.4" fill="#000"/>
<circle cx="495.78" cy="36.29" r="1.4" fill="#000"/>
<circle cx="523.24" cy="30.8" r="1.4" fill="#000"/>
<path d="M319.6,217.6H321.5M323.75,217.6H326.25M328.5,217.6H331M333.25,217.6H335.75M338,217.6H340.5M342.75,217.6H345.25M347.5,217.6H350M352.25,217.6H354.75M357,217.6H359.5M361.75,217.6H364.25M366.5,217.6H369M371.25,217.6H373.75M376,217.6H378.5M380.75,217.6H383.25M385.5,217.6H388M390.25,217.6H392.75M395,217.6H397.5M399.75,217.6H402.25M404.5,217.6H407M409.25,217.6H411.75M414,217.6H416.5M418.75,217.6H421.25M423.5,217.6H426M428.25,217.6H430.75M433,217.6H435.5M437.75,217.6H440.25M442.5,217.6H445M447.25,217.6H449.75M452,217.6H454.5M456.75,217.6H459.25M461.5,217.6H464M466.25,217.6H468.75M471,217.6H473.5M475.75,217.6H478.25M480.5,217.6H483M485.25,217.6H487.75M490,217.6H492.5M494.75,217.6H497.25M499.5,217.6H502M504.25,217.6H506.75M509,217.6H511.5M513.75,217.6H516.25M518.5,217.6H521M523.25,217.6H525.75M528,217.6H530.5M532.75,217.6H535.25M537.5,217.6H540M542.25,217.6H544.75" fill="none" stroke="#b3b3b3" stroke-width="1"/>
<path d="M321.5,217.6H323.75M326.25,217.6H328.5M331,217.6H333.25M335.75,217.6H338M340.5,217.6H342.49" fill="none" stroke="#3a3a3a" stroke-width="1"/>
<path d="M319.6,30.8H321.5M323.75,30.8H326.25M328.5,30.8H331M333.25,30.8H335.75M338,30.8H340.5M342.75,30.8H345.25M347.5,30.8H350M352.25,30.8H354.75M357,30.8H359.5M361.75,30.8H364.25M366.5,30.8H369M371.25,30.8H373.75M376,30.8H378.5M380.75,30.8H383.25M385.5,30.8H388M390.25,30.8H392.75M395,30.8H397.5M399.75,30.8H402.25M404.5,30.8H407M409.25,30.8H411.75M414,30.8H416.5M418.75,30.8H421.25M423.5,30.8H426M428.25,30.8H430.75M433,30.8H435.5M437.75,30.8H440.25M442.5,30.8H445M447.25,30.8H449.75M452,30.8H454.5M456.75,30.8H459.25M461.5,30.8H464M466.25,30.8H468.75M471,30.8H473.5M475.75,30.8H478.25M480.5,30.8H483M485.25,30.8H487.75M490,30.8H492.5M494.75,30.8H497.25M499.5,30.8H502M504.25,30.8H506.75M509,30.8H511.5M513.75,30.8H516.25M518.5,30.8H521M523.25,30.8H525.75M528,30.8H530.5M532.75,30.8H535.25M537.5,30.8H540M542.25,30.8H544.75" fill="none" stroke="#b3b3b3" stroke-width="1"/>
<path d="M523.24,30.8H523.25M525.75,30.8H528M530.5,30.8H532.75M535.25,30.8H537.5M540,30.8H542.25M544.75,30.8H546" fill="none" stroke="#3a3a3a" stroke-width="1"/>
<path d="M340.66,228.81L341.12,222.75L341.57,217.6L342.03,213.39L342.49,209.72L342.95,206.39L343.4,203.3L343.86,200.44L344.32,197.75L344.78,195.18L345.23,192.66L345.69,190.15L346.15,187.68L346.61,185.26L347.06,182.91L347.52,180.64L347.98,178.48L348.44,176.44L348.89,174.53L349.35,172.77L349.81,171.11L350.27,169.49L350.72,167.91L351.18,166.36L351.64,164.85L352.1,163.37L352.56,161.92L353.01,160.5L353.47,159.12L353.93,157.76L354.39,156.43L354.84,155.13L355.3,153.85L355.76,152.6L356.22,151.37L356.67,150.16L357.13,148.97L357.59,147.8L358.05,146.66L358.5,145.52L358.96,144.41L359.42,143.31L359.88,142.22L360.33,141.15L360.79,140.09L361.25,139.04L361.71,137.99L362.16,136.96L362.62,135.93L363.08,134.91L363.54,133.9L364,132.89L364.45,131.88L364.91,130.87L365.37,129.86L365.83,128.86L366.28,127.87L366.74,126.88L367.2,125.9L367.66,124.93L368.11,123.96L368.57,123L369.03,122.05L369.49,121.1L369.94,120.17L370.4,119.23L370.86,118.31L371.32,117.39L371.77,116.49L372.23,115.58L372.69,114.69L373.15,113.8L373.6,112.92L374.06,112.05L374.52,111.18L374.98,110.33L375.44,109.48L375.89,108.64L376.35,107.8L376.81,106.97L377.27,106.15L377.72,105.34L378.18,104.54L378.64,103.74L379.1,102.95L379.55,102.17L380.01,101.4L380.47,100.63L380.93,99.87L381.38,99.12L381.84,98.38L382.3,97.65L382.76,96.92L383.21,96.21L383.67,95.5L384.13,94.79L384.59,94.1L385.04,93.42L385.5,92.74L385.96,92.07L386.42,91.41L386.88,90.75L387.33,90.09L387.79,89.43L388.25,88.78L388.71,88.14L389.16,87.5L389.62,86.86L390.08,86.23L390.54,85.6L390.99,84.98L391.45,84.36L391.91,83.75L392.37,83.15L392.82,82.56L393.28,81.97L393.74,81.39L394.2,80.82L394.65,80.25L395.11,79.7L395.57,79.15L396.03,78.61L396.48,78.09L396.94,77.57L397.4,77.06L397.86,76.57L398.32,76.08L398.77,75.61L399.23,75.15L399.69,74.7L400.15,74.26L400.6,73.83L401.06,73.42L401.52,73.02L401.98,72.64L402.43,72.26L402.89,71.88L403.35,71.51L403.81,71.15L404.26,70.79L404.72,70.43L405.18,70.08L405.64,69.74L406.09,69.39L406.55,69.06L407.01,68.72L407.47,68.39L407.92,68.07L408.38,67.75L408.84,67.43L409.3,67.12L409.76,66.81L410.21,66.51L410.67,66.21L411.13,65.91L411.59,65.62L412.04,65.33L412.5,65.05L412.96,64.76L413.42,64.49L413.87,64.21L414.33,63.94L414.79,63.67L415.25,63.4L415.7,63.14L416.16,62.88L416.62,62.63L417.08,62.37L417.53,62.12L417.99,61.87L418.45,61.63L418.91,61.39L419.36,61.15L419.82,60.91L420.28,60.68L420.74,60.44L421.2,60.21L421.65,59.98L422.11,59.76L422.57,59.54L423.03,59.31L423.48,59.09L423.94,58.88L424.4,58.66L424.86,58.45L425.31,58.23L425.77,58.02L426.23,57.81L426.69,57.59L427.14,57.38L427.6,57.17L428.06,56.95L428.52,56.74L428.97,56.53L429.43,56.32L429.89,56.1L430.35,55.89L430.8,55.68L431.26,55.47L431.72,55.26L432.18,55.05L432.64,54.84L433.09,54.63L433.55,54.42L434.01,54.21L434.47,54L434.92,53.79L435.38,53.59L435.84,53.38L436.3,53.17L436.75,52.97L437.21,52.76L437.67,52.56L438.13,52.35L438.58,52.15L439.04,51.95L439.5,51.74L439.96,51.54L440.41,51.34L440.87,51.14L441.33,50.95L441.79,50.75L442.24,50.55L442.7,50.35L443.16,50.16L443.62,49.97L444.08,49.77L444.53,49.58L444.99,49.39L445.45,49.2L445.91,49.01L446.36,48.82L446.82,48.64L447.28,48.45L447.74,48.27L448.19,48.08L448.65,47.9L449.11,47.72L449.57,47.54L450.02,47.36L450.48,47.18L450.94,47.01L451.4,46.83L451.85,46.66L452.31,46.49L452.77,46.32L453.23,46.15L453.68,45.98L454.14,45.82L454.6,45.66L455.06,45.49L455.52,45.33L455.97,45.17L456.43,45.02L456.89,44.86L457.35,44.71L457.8,44.55L458.26,44.4L458.72,44.25L459.18,44.11L459.63,43.96L460.09,43.82L460.55,43.67L461.01,43.54L461.46,43.4L461.92,43.26L462.38,43.13L462.84,42.99L463.29,42.86L463.75,42.74L464.21,42.61L464.67,42.49L465.12,42.36L465.58,42.24L466.04,42.13L466.5,42.01L466.96,41.9L467.41,41.79L467.87,41.68L468.33,41.57L468.79,41.47L469.24,41.37L469.7,41.27L470.16,41.17L470.62,41.07L471.07,40.98L471.53,40.89L471.99,40.8L472.45,40.72L472.9,40.64L473.36,40.56L473.82,40.48L474.28,40.4L474.73,40.33L475.19,40.26L475.65,40.19L476.11,40.13L476.56,40.07L477.02,40.01L477.48,39.95L477.94,39.9L478.4,39.84L478.85,39.79L479.31,39.74L479.77,39.68L480.23,39.63L480.68,39.57L481.14,39.52L481.6,39.47L482.06,39.42L482.51,39.36L482.97,39.31L483.43,39.26L483.89,39.21L484.34,39.16L484.8,39.1L485.26,39.05L485.72,39L486.17,38.95L486.63,38.9L487.09,38.85L487.55,38.8L488,38.75L488.46,38.71L488.92,38.66L489.38,38.61L489.84,38.56L490.29,38.51L490.75,38.47L491.21,38.42L491.67,38.38L492.12,38.33L492.58,38.28L493.04,38.24L493.5,38.2L493.95,38.15L494.41,38.11L494.87,38.07L495.33,38.02L495.78,37.98L496.24,37.94L496.7,37.9L497.16,37.86L497.61,37.82L498.07,37.78L498.53,37.74L498.99,37.7L499.44,37.66L499.9,37.62L500.36,37.59L500.82,37.55L501.28,37.51L501.73,37.48L502.19,37.44L502.65,37.41L503.11,37.38L503.56,37.34L504.02,37.31L504.48,37.28L504.94,37.25L505.39,37.22L505.85,37.19L506.31,37.16L506.77,37.13L507.22,37.1L507.68,37.07L508.14,37.05L508.6,37.02L509.05,37L509.51,36.97L509.97,36.95L510.43,36.92L510.88,36.9L511.34,36.88L511.8,36.86L512.26,36.84L512.72,36.82L513.17,36.8L513.63,36.78L514.09,36.77L514.55,36.75L515,36.73L515.46,36.72L515.92,36.7L516.38,36.69L516.83,36.68L517.29,36.67L517.75,36.66L518.21,36.64L518.66,36.64L519.12,36.63L519.58,36.62L520.04,36.61L520.49,36.61L520.95,36.6L521.41,36.6L521.87,36.59L522.32,36.59L522.78,36.59L523.24,36.59" fill="none" stroke="#DF536B" stroke-width="1.3" stroke-linejoin="round" stroke-linecap="butt"/>
<path d="M340.2,217.6L340.66,216.47L341.12,215.34L341.57,214.19L342.03,213.03L342.49,211.87L342.95,210.69L343.4,209.51L343.86,208.32L344.32,207.12L344.78,205.91L345.23,204.7L345.69,203.48L346.15,202.25L346.61,201.02L347.06,199.78L347.52,198.54L347.98,197.29L348.44,196.04L348.89,194.78L349.35,193.52L349.81,192.26L350.27,190.99L350.72,189.72L351.18,188.45L351.64,187.18L352.1,185.9L352.56,184.63L353.01,183.35L353.47,182.07L353.93,180.79L354.39,179.51L354.84,178.23L355.3,176.95L355.76,175.66L356.22,174.38L356.67,173.09L357.13,171.8L357.59,170.5L358.05,169.19L358.5,167.89L358.96,166.58L359.42,165.29L359.88,164.01L360.33,162.74L360.79,161.5L361.25,160.28L361.71,159.08L362.16,157.87L362.62,156.68L363.08,155.48L363.54,154.3L364,153.12L364.45,151.94L364.91,150.78L365.37,149.62L365.83,148.48L366.28,147.34L366.74,146.22L367.2,145.11L367.66,144.01L368.11,142.93L368.57,141.86L369.03,140.81L369.49,139.78L369.94,138.76L370.4,137.76L370.86,136.78L371.32,135.83L371.77,134.89L372.23,133.98L372.69,133.08L373.15,132.19L373.6,131.3L374.06,130.43L374.52,129.56L374.98,128.7L375.44,127.85L375.89,127.01L376.35,126.17L376.81,125.34L377.27,124.52L377.72,123.71L378.18,122.9L378.64,122.1L379.1,121.31L379.55,120.53L380.01,119.75L380.47,118.98L380.93,118.22L381.38,117.47L381.84,116.72L382.3,115.98L382.76,115.25L383.21,114.52L383.67,113.81L384.13,113.1L384.59,112.39L385.04,111.69L385.5,111.01L385.96,110.32L386.42,109.65L386.88,108.98L387.33,108.33L387.79,107.68L388.25,107.04L388.71,106.41L389.16,105.78L389.62,105.17L390.08,104.56L390.54,103.96L390.99,103.37L391.45,102.79L391.91,102.21L392.37,101.64L392.82,101.08L393.28,100.53L393.74,99.98L394.2,99.44L394.65,98.9L395.11,98.38L395.57,97.85L396.03,97.34L396.48,96.83L396.94,96.33L397.4,95.83L397.86,95.34L398.32,94.85L398.77,94.37L399.23,93.89L399.69,93.42L400.15,92.96L400.6,92.49L401.06,92.04L401.52,91.59L401.98,91.14L402.43,90.69L402.89,90.25L403.35,89.82L403.81,89.39L404.26,88.96L404.72,88.53L405.18,88.11L405.64,87.69L406.09,87.28L406.55,86.87L407.01,86.46L407.47,86.06L407.92,85.66L408.38,85.27L408.84,84.89L409.3,84.51L409.76,84.13L410.21,83.76L410.67,83.4L411.13,83.04L411.59,82.68L412.04,82.33L412.5,81.98L412.96,81.64L413.42,81.3L413.87,80.97L414.33,80.64L414.79,80.31L415.25,79.99L415.7,79.67L416.16,79.35L416.62,79.04L417.08,78.73L417.53,78.42L417.99,78.11L418.45,77.81L418.91,77.51L419.36,77.22L419.82,76.92L420.28,76.63L420.74,76.34L421.2,76.05L421.65,75.76L422.11,75.48L422.57,75.2L423.03,74.91L423.48,74.63L423.94,74.35L424.4,74.07L424.86,73.8L425.31,73.52L425.77,73.25L426.23,72.98L426.69,72.71L427.14,72.45L427.6,72.18L428.06,71.92L428.52,71.66L428.97,71.41L429.43,71.15L429.89,70.9L430.35,70.65L430.8,70.41L431.26,70.16L431.72,69.92L432.18,69.68L432.64,69.44L433.09,69.21L433.55,68.98L434.01,68.74L434.47,68.51L434.92,68.29L435.38,68.06L435.84,67.84L436.3,67.62L436.75,67.4L437.21,67.18L437.67,66.96L438.13,66.75L438.58,66.54L439.04,66.33L439.5,66.12L439.96,65.91L440.41,65.7L440.87,65.5L441.33,65.3L441.79,65.1L442.24,64.9L442.7,64.7L443.16,64.51L443.62,64.31L444.08,64.12L444.53,63.93L444.99,63.74L445.45,63.55L445.91,63.36L446.36,63.18L446.82,62.99L447.28,62.81L447.74,62.63L448.19,62.45L448.65,62.27L449.11,62.09L449.57,61.92L450.02,61.74L450.48,61.57L450.94,61.4L451.4,61.22L451.85,61.05L452.31,60.88L452.77,60.72L453.23,60.55L453.68,60.38L454.14,60.22L454.6,60.06L455.06,59.89L455.52,59.73L455.97,59.57L456.43,59.41L456.89,59.25L457.35,59.1L457.8,58.94L458.26,58.78L458.72,58.63L459.18,58.47L459.63,58.32L460.09,58.17L460.55,58.02L461.01,57.87L461.46,57.72L461.92,57.57L462.38,57.42L462.84,57.27L463.29,57.12L463.75,56.98L464.21,56.83L464.67,56.69L465.12,56.54L465.58,56.4L466.04,56.26L466.5,56.11L466.96,55.97L467.41,55.83L467.87,55.69L468.33,55.55L468.79,55.41L469.24,55.28L469.7,55.14L470.16,55L470.62,54.86L471.07,54.73L471.53,54.59L471.99,54.46L472.45,54.32L472.9,54.19L473.36,54.05L473.82,53.92L474.28,53.79L474.73,53.65L475.19,53.52L475.65,53.39L476.11,53.26L476.56,53.13L477.02,53L477.48,52.87L477.94,52.74L478.4,52.61L478.85,52.48L479.31,52.35L479.77,52.23L480.23,52.1L480.68,51.98L481.14,51.85L481.6,51.73L482.06,51.61L482.51,51.49L482.97,51.37L483.43,51.25L483.89,51.13L484.34,51.01L484.8,50.89L485.26,50.78L485.72,50.66L486.17,50.54L486.63,50.43L487.09,50.32L487.55,50.2L488,50.09L488.46,49.98L488.92,49.87L489.38,49.76L489.84,49.65L490.29,49.54L490.75,49.43L491.21,49.32L491.67,49.22L492.12,49.11L492.58,49L493.04,48.9L493.5,48.79L493.95,48.69L494.41,48.58L494.87,48.48L495.33,48.38L495.78,48.28L496.24,48.18L496.7,48.07L497.16,47.97L497.61,47.87L498.07,47.78L498.53,47.68L498.99,47.58L499.44,47.48L499.9,47.38L500.36,47.29L500.82,47.19L501.28,47.1L501.73,47L502.19,46.9L502.65,46.81L503.11,46.72L503.56,46.62L504.02,46.53L504.48,46.44L504.94,46.35L505.39,46.25L505.85,46.16L506.31,46.07L506.77,45.98L507.22,45.89L507.68,45.8L508.14,45.71L508.6,45.62L509.05,45.53L509.51,45.45L509.97,45.36L510.43,45.27L510.88,45.18L511.34,45.1L511.8,45.01L512.26,44.93L512.72,44.84L513.17,44.75L513.63,44.67L514.09,44.59L514.55,44.5L515,44.42L515.46,44.33L515.92,44.25L516.38,44.17L516.83,44.08L517.29,44L517.75,43.92L518.21,43.84L518.66,43.76L519.12,43.68L519.58,43.6L520.04,43.51L520.49,43.43L520.95,43.35L521.41,43.27L521.87,43.2L522.32,43.12L522.78,43.04L523.24,42.96" fill="none" stroke="#61D04F" stroke-width="1.4" stroke-linejoin="round" stroke-linecap="butt"/>
<path d="M340.2,217.6L340.66,215.54L341.12,213.5L341.57,211.48L342.03,209.48L342.49,207.5L342.95,205.54L343.4,203.6L343.86,201.67L344.32,199.77L344.78,197.88L345.23,196.01L345.69,194.16L346.15,192.33L346.61,190.51L347.06,188.71L347.52,186.93L347.98,185.16L348.44,183.41L348.89,181.68L349.35,179.96L349.81,178.26L350.27,176.57L350.72,174.89L351.18,173.23L351.64,171.58L352.1,169.95L352.56,168.33L353.01,166.72L353.47,165.13L353.93,163.56L354.39,162L354.84,160.46L355.3,158.93L355.76,157.42L356.22,155.93L356.67,154.45L357.13,153L357.59,151.55L358.05,150.13L358.5,148.73L358.96,147.34L359.42,145.97L359.88,144.62L360.33,143.28L360.79,141.97L361.25,140.67L361.71,139.39L362.16,138.13L362.62,136.89L363.08,135.67L363.54,134.46L364,133.27L364.45,132.11L364.91,130.96L365.37,129.82L365.83,128.71L366.28,127.61L366.74,126.53L367.2,125.47L367.66,124.42L368.11,123.39L368.57,122.37L369.03,121.37L369.49,120.38L369.94,119.41L370.4,118.44L370.86,117.49L371.32,116.55L371.77,115.63L372.23,114.71L372.69,113.81L373.15,112.92L373.6,112.04L374.06,111.16L374.52,110.3L374.98,109.45L375.44,108.6L375.89,107.77L376.35,106.94L376.81,106.12L377.27,105.31L377.72,104.51L378.18,103.71L378.64,102.93L379.1,102.15L379.55,101.37L380.01,100.6L380.47,99.84L380.93,99.09L381.38,98.34L381.84,97.6L382.3,96.86L382.76,96.13L383.21,95.4L383.67,94.68L384.13,93.96L384.59,93.25L385.04,92.54L385.5,91.84L385.96,91.14L386.42,90.45L386.88,89.76L387.33,89.08L387.79,88.41L388.25,87.74L388.71,87.08L389.16,86.42L389.62,85.77L390.08,85.12L390.54,84.48L390.99,83.85L391.45,83.22L391.91,82.59L392.37,81.98L392.82,81.36L393.28,80.75L393.74,80.15L394.2,79.55L394.65,78.96L395.11,78.37L395.57,77.79L396.03,77.21L396.48,76.64L396.94,76.07L397.4,75.5L397.86,74.94L398.32,74.38L398.77,73.81L399.23,73.25L399.69,72.69L400.15,72.13L400.6,71.57L401.06,71.02L401.52,70.48L401.98,69.94L402.43,69.41L402.89,68.88L403.35,68.36L403.81,67.85L404.26,67.35L404.72,66.86L405.18,66.38L405.64,65.91L406.09,65.45L406.55,65L407.01,64.57L407.47,64.14L407.92,63.73L408.38,63.33L408.84,62.94L409.3,62.56L409.76,62.19L410.21,61.83L410.67,61.48L411.13,61.13L411.59,60.8L412.04,60.46L412.5,60.14L412.96,59.82L413.42,59.51L413.87,59.2L414.33,58.9L414.79,58.6L415.25,58.31L415.7,58.02L416.16,57.74L416.62,57.46L417.08,57.18L417.53,56.91L417.99,56.64L418.45,56.37L418.91,56.11L419.36,55.85L419.82,55.59L420.28,55.33L420.74,55.08L421.2,54.83L421.65,54.59L422.11,54.35L422.57,54.11L423.03,53.88L423.48,53.65L423.94,53.42L424.4,53.2L424.86,52.98L425.31,52.76L425.77,52.54L426.23,52.33L426.69,52.12L427.14,51.91L427.6,51.7L428.06,51.5L428.52,51.29L428.97,51.09L429.43,50.89L429.89,50.69L430.35,50.49L430.8,50.3L431.26,50.1L431.72,49.91L432.18,49.71L432.64,49.52L433.09,49.33L433.55,49.14L434.01,48.95L434.47,48.77L434.92,48.58L435.38,48.4L435.84,48.22L436.3,48.04L436.75,47.86L437.21,47.68L437.67,47.51L438.13,47.34L438.58,47.16L439.04,46.99L439.5,46.82L439.96,46.66L440.41,46.49L440.87,46.33L441.33,46.17L441.79,46.01L442.24,45.85L442.7,45.69L443.16,45.53L443.62,45.38L444.08,45.23L444.53,45.08L444.99,44.93L445.45,44.78L445.91,44.63L446.36,44.49L446.82,44.35L447.28,44.21L447.74,44.07L448.19,43.93L448.65,43.79L449.11,43.66L449.57,43.52L450.02,43.39L450.48,43.26L450.94,43.13L451.4,43.01L451.85,42.88L452.31,42.76L452.77,42.63L453.23,42.51L453.68,42.39L454.14,42.28L454.6,42.16L455.06,42.04L455.52,41.93L455.97,41.82L456.43,41.7L456.89,41.59L457.35,41.48L457.8,41.37L458.26,41.26L458.72,41.15L459.18,41.04L459.63,40.93L460.09,40.83L460.55,40.72L461.01,40.62L461.46,40.52L461.92,40.42L462.38,40.32L462.84,40.22L463.29,40.12L463.75,40.02L464.21,39.93L464.67,39.83L465.12,39.74L465.58,39.65L466.04,39.55L466.5,39.47L466.96,39.38L467.41,39.29L467.87,39.2L468.33,39.12L468.79,39.04L469.24,38.95L469.7,38.87L470.16,38.79L470.62,38.71L471.07,38.64L471.53,38.56L471.99,38.49L472.45,38.41L472.9,38.34L473.36,38.27L473.82,38.2L474.28,38.13L474.73,38.06L475.19,38L475.65,37.93L476.11,37.87L476.56,37.81L477.02,37.75L477.48,37.69L477.94,37.63L478.4,37.57L478.85,37.52L479.31,37.46L479.77,37.4L480.23,37.35L480.68,37.29L481.14,37.24L481.6,37.19L482.06,37.13L482.51,37.08L482.97,37.03L483.43,36.98L483.89,36.92L484.34,36.87L484.8,36.82L485.26,36.78L485.72,36.73L486.17,36.68L486.63,36.63L487.09,36.58L487.55,36.54L488,36.49L488.46,36.44L488.92,36.4L489.38,36.35L489.84,36.31L490.29,36.27L490.75,36.22L491.21,36.18L491.67,36.14L492.12,36.1L492.58,36.05L493.04,36.01L493.5,35.97L493.95,35.93L494.41,35.89L494.87,35.85L495.33,35.82L495.78,35.78L496.24,35.74L496.7,35.7L497.16,35.67L497.61,35.63L498.07,35.59L498.53,35.56L498.99,35.52L499.44,35.49L499.9,35.45L500.36,35.42L500.82,35.39L501.28,35.35L501.73,35.32L502.19,35.29L502.65,35.25L503.11,35.22L503.56,35.19L504.02,35.16L504.48,35.13L504.94,35.1L505.39,35.07L505.85,35.04L506.31,35.01L506.77,34.98L507.22,34.95L507.68,34.93L508.14,34.9L508.6,34.87L509.05,34.84L509.51,34.82L509.97,34.79L510.43,34.76L510.88,34.74L511.34,34.71L511.8,34.69L512.26,34.66L512.72,34.64L513.17,34.61L513.63,34.59L514.09,34.57L514.55,34.54L515,34.52L515.46,34.5L515.92,34.47L516.38,34.45L516.83,34.43L517.29,34.41L517.75,34.39L518.21,34.37L518.66,34.35L519.12,34.33L519.58,34.31L520.04,34.29L520.49,34.27L520.95,34.25L521.41,34.23L521.87,34.21L522.32,34.19L522.78,34.17L523.24,34.15" fill="none" stroke="#2297E6" stroke-width="1.4" stroke-linejoin="round" stroke-linecap="butt"/>
<path d="M340.2,217.6L340.66,215.61L341.12,213.64L341.57,211.7L342.03,209.77L342.49,207.87L342.95,205.98L343.4,204.12L343.86,202.28L344.32,200.45L344.78,198.64L345.23,196.86L345.69,195.09L346.15,193.34L346.61,191.61L347.06,189.9L347.52,188.21L347.98,186.53L348.44,184.87L348.89,183.24L349.35,181.61L349.81,180.01L350.27,178.42L350.72,176.85L351.18,175.29L351.64,173.76L352.1,172.23L352.56,170.73L353.01,169.24L353.47,167.77L353.93,166.31L354.39,164.87L354.84,163.44L355.3,162.03L355.76,160.63L356.22,159.25L356.67,157.88L357.13,156.53L357.59,155.19L358.05,153.87L358.5,152.56L358.96,151.26L359.42,149.98L359.88,148.71L360.33,147.46L360.79,146.22L361.25,144.99L361.71,143.77L362.16,142.57L362.62,141.38L363.08,140.2L363.54,139.04L364,137.89L364.45,136.75L364.91,135.62L365.37,134.5L365.83,133.4L366.28,132.31L366.74,131.23L367.2,130.16L367.66,129.1L368.11,128.06L368.57,127.02L369.03,126L369.49,124.98L369.94,123.98L370.4,122.99L370.86,122.01L371.32,121.04L371.77,120.08L372.23,119.13L372.69,118.19L373.15,117.26L373.6,116.34L374.06,115.43L374.52,114.53L374.98,113.63L375.44,112.75L375.89,111.88L376.35,111.02L376.81,110.16L377.27,109.32L377.72,108.48L378.18,107.66L378.64,106.84L379.1,106.03L379.55,105.23L380.01,104.44L380.47,103.65L380.93,102.88L381.38,102.11L381.84,101.35L382.3,100.6L382.76,99.86L383.21,99.12L383.67,98.4L384.13,97.68L384.59,96.96L385.04,96.26L385.5,95.56L385.96,94.87L386.42,94.19L386.88,93.52L387.33,92.85L387.79,92.19L388.25,91.54L388.71,90.89L389.16,90.25L389.62,89.62L390.08,88.99L390.54,88.37L390.99,87.76L391.45,87.15L391.91,86.55L392.37,85.96L392.82,85.37L393.28,84.79L393.74,84.22L394.2,83.65L394.65,83.09L395.11,82.53L395.57,81.98L396.03,81.43L396.48,80.9L396.94,80.36L397.4,79.84L397.86,79.31L398.32,78.8L398.77,78.29L399.23,77.78L399.69,77.28L400.15,76.79L400.6,76.3L401.06,75.81L401.52,75.33L401.98,74.86L402.43,74.39L402.89,73.93L403.35,73.47L403.81,73.01L404.26,72.56L404.72,72.12L405.18,71.68L405.64,71.24L406.09,70.81L406.55,70.39L407.01,69.97L407.47,69.55L407.92,69.14L408.38,68.73L408.84,68.33L409.3,67.93L409.76,67.53L410.21,67.14L410.67,66.75L411.13,66.37L411.59,65.99L412.04,65.62L412.5,65.25L412.96,64.88L413.42,64.52L413.87,64.16L414.33,63.8L414.79,63.45L415.25,63.11L415.7,62.76L416.16,62.42L416.62,62.08L417.08,61.75L417.53,61.42L417.99,61.1L418.45,60.77L418.91,60.46L419.36,60.14L419.82,59.83L420.28,59.52L420.74,59.21L421.2,58.91L421.65,58.61L422.11,58.32L422.57,58.02L423.03,57.73L423.48,57.45L423.94,57.16L424.4,56.88L424.86,56.6L425.31,56.33L425.77,56.06L426.23,55.79L426.69,55.52L427.14,55.26L427.6,55L428.06,54.74L428.52,54.49L428.97,54.24L429.43,53.99L429.89,53.74L430.35,53.49L430.8,53.25L431.26,53.01L431.72,52.78L432.18,52.54L432.64,52.31L433.09,52.08L433.55,51.86L434.01,51.63L434.47,51.41L434.92,51.19L435.38,50.97L435.84,50.76L436.3,50.55L436.75,50.34L437.21,50.13L437.67,49.92L438.13,49.72L438.58,49.52L439.04,49.32L439.5,49.12L439.96,48.93L440.41,48.73L440.87,48.54L441.33,48.35L441.79,48.17L442.24,47.98L442.7,47.8L443.16,47.62L443.62,47.44L444.08,47.26L444.53,47.09L444.99,46.91L445.45,46.74L445.91,46.57L446.36,46.41L446.82,46.24L447.28,46.08L447.74,45.91L448.19,45.75L448.65,45.59L449.11,45.44L449.57,45.28L450.02,45.13L450.48,44.97L450.94,44.82L451.4,44.67L451.85,44.53L452.31,44.38L452.77,44.23L453.23,44.09L453.68,43.95L454.14,43.81L454.6,43.67L455.06,43.53L455.52,43.4L455.97,43.27L456.43,43.13L456.89,43L457.35,42.87L457.8,42.74L458.26,42.62L458.72,42.49L459.18,42.37L459.63,42.24L460.09,42.12L460.55,42L461.01,41.88L461.46,41.76L461.92,41.65L462.38,41.53L462.84,41.42L463.29,41.3L463.75,41.19L464.21,41.08L464.67,40.97L465.12,40.86L465.58,40.76L466.04,40.65L466.5,40.55L466.96,40.44L467.41,40.34L467.87,40.24L468.33,40.14L468.79,40.04L469.24,39.94L469.7,39.84L470.16,39.75L470.62,39.65L471.07,39.56L471.53,39.46L471.99,39.37L472.45,39.28L472.9,39.19L473.36,39.1L473.82,39.01L474.28,38.92L474.73,38.84L475.19,38.75L475.65,38.67L476.11,38.58L476.56,38.5L477.02,38.42L477.48,38.34L477.94,38.26L478.4,38.18L478.85,38.1L479.31,38.02L479.77,37.95L480.23,37.87L480.68,37.79L481.14,37.72L481.6,37.65L482.06,37.57L482.51,37.5L482.97,37.43L483.43,37.36L483.89,37.29L484.34,37.22L484.8,37.15L485.26,37.08L485.72,37.02L486.17,36.95L486.63,36.89L487.09,36.82L487.55,36.76L488,36.69L488.46,36.63L488.92,36.57L489.38,36.51L489.84,36.45L490.29,36.39L490.75,36.33L491.21,36.27L491.67,36.21L492.12,36.15L492.58,36.1L493.04,36.04L493.5,35.98L493.95,35.93L494.41,35.87L494.87,35.82L495.33,35.77L495.78,35.71L496.24,35.66L496.7,35.61L497.16,35.56L497.61,35.51L498.07,35.46L498.53,35.41L498.99,35.36L499.44,35.31L499.9,35.26L500.36,35.22L500.82,35.17L501.28,35.12L501.73,35.08L502.19,35.03L502.65,34.99L503.11,34.94L503.56,34.9L504.02,34.85L504.48,34.81L504.94,34.77L505.39,34.72L505.85,34.68L506.31,34.64L506.77,34.6L507.22,34.56L507.68,34.52L508.14,34.48L508.6,34.44L509.05,34.4L509.51,34.36L509.97,34.33L510.43,34.29L510.88,34.25L511.34,34.22L511.8,34.18L512.26,34.14L512.72,34.11L513.17,34.07L513.63,34.04L514.09,34L514.55,33.97L515,33.94L515.46,33.9L515.92,33.87L516.38,33.84L516.83,33.8L517.29,33.77L517.75,33.74L518.21,33.71L518.66,33.68L519.12,33.65L519.58,33.62L520.04,33.59L520.49,33.56L520.95,33.53L521.41,33.5L521.87,33.47L522.32,33.44L522.78,33.41L523.24,33.39" fill="none" stroke="#28E2E5" stroke-width="1.4" stroke-linejoin="round" stroke-linecap="butt"/>
<path d="M340.2,217.6L340.66,215.08L341.12,212.59L341.57,210.13L342.03,207.71L342.49,205.32L342.95,202.96L343.4,200.64L343.86,198.34L344.32,196.08L344.78,193.85L345.23,191.64L345.69,189.47L346.15,187.33L346.61,185.21L347.06,183.13L347.52,181.07L347.98,179.04L348.44,177.04L348.89,175.06L349.35,173.11L349.81,171.19L350.27,169.3L350.72,167.42L351.18,165.58L351.64,163.76L352.1,161.96L352.56,160.19L353.01,158.44L353.47,156.72L353.93,155.02L354.39,153.34L354.84,151.68L355.3,150.05L355.76,148.44L356.22,146.85L356.67,145.28L357.13,143.74L357.59,142.21L358.05,140.71L358.5,139.22L358.96,137.76L359.42,136.31L359.88,134.89L360.33,133.48L360.79,132.1L361.25,130.73L361.71,129.38L362.16,128.05L362.62,126.73L363.08,125.44L363.54,124.16L364,122.9L364.45,121.65L364.91,120.43L365.37,119.21L365.83,118.02L366.28,116.84L366.74,115.68L367.2,114.53L367.66,113.4L368.11,112.29L368.57,111.19L369.03,110.1L369.49,109.03L369.94,107.97L370.4,106.93L370.86,105.9L371.32,104.89L371.77,103.89L372.23,102.9L372.69,101.92L373.15,100.96L373.6,100.02L374.06,99.08L374.52,98.16L374.98,97.25L375.44,96.35L375.89,95.47L376.35,94.59L376.81,93.73L377.27,92.88L377.72,92.04L378.18,91.22L378.64,90.4L379.1,89.59L379.55,88.8L380.01,88.02L380.47,87.24L380.93,86.48L381.38,85.73L381.84,84.99L382.3,84.25L382.76,83.53L383.21,82.82L383.67,82.12L384.13,81.42L384.59,80.74L385.04,80.07L385.5,79.4L385.96,78.74L386.42,78.1L386.88,77.46L387.33,76.83L387.79,76.21L388.25,75.59L388.71,74.99L389.16,74.39L389.62,73.8L390.08,73.22L390.54,72.65L390.99,72.08L391.45,71.52L391.91,70.97L392.37,70.43L392.82,69.9L393.28,69.37L393.74,68.85L394.2,68.33L394.65,67.83L395.11,67.33L395.57,66.83L396.03,66.35L396.48,65.87L396.94,65.39L397.4,64.93L397.86,64.46L398.32,64.01L398.77,63.56L399.23,63.12L399.69,62.68L400.15,62.25L400.6,61.83L401.06,61.41L401.52,60.99L401.98,60.59L402.43,60.18L402.89,59.79L403.35,59.4L403.81,59.01L404.26,58.63L404.72,58.25L405.18,57.88L405.64,57.52L406.09,57.15L406.55,56.8L407.01,56.45L407.47,56.1L407.92,55.76L408.38,55.42L408.84,55.09L409.3,54.76L409.76,54.44L410.21,54.12L410.67,53.8L411.13,53.49L411.59,53.19L412.04,52.88L412.5,52.59L412.96,52.29L413.42,52L413.87,51.71L414.33,51.43L414.79,51.15L415.25,50.88L415.7,50.61L416.16,50.34L416.62,50.08L417.08,49.82L417.53,49.56L417.99,49.3L418.45,49.05L418.91,48.81L419.36,48.57L419.82,48.33L420.28,48.09L420.74,47.85L421.2,47.62L421.65,47.4L422.11,47.17L422.57,46.95L423.03,46.73L423.48,46.52L423.94,46.31L424.4,46.1L424.86,45.89L425.31,45.69L425.77,45.49L426.23,45.29L426.69,45.09L427.14,44.9L427.6,44.71L428.06,44.52L428.52,44.33L428.97,44.15L429.43,43.97L429.89,43.79L430.35,43.62L430.8,43.44L431.26,43.27L431.72,43.11L432.18,42.94L432.64,42.78L433.09,42.61L433.55,42.45L434.01,42.3L434.47,42.14L434.92,41.99L435.38,41.84L435.84,41.69L436.3,41.54L436.75,41.4L437.21,41.25L437.67,41.11L438.13,40.97L438.58,40.83L439.04,40.7L439.5,40.57L439.96,40.43L440.41,40.3L440.87,40.17L441.33,40.05L441.79,39.92L442.24,39.8L442.7,39.68L443.16,39.56L443.62,39.44L444.08,39.32L444.53,39.21L444.99,39.09L445.45,38.98L445.91,38.87L446.36,38.76L446.82,38.66L447.28,38.55L447.74,38.44L448.19,38.34L448.65,38.24L449.11,38.14L449.57,38.04L450.02,37.94L450.48,37.85L450.94,37.75L451.4,37.66L451.85,37.56L452.31,37.47L452.77,37.38L453.23,37.29L453.68,37.21L454.14,37.12L454.6,37.03L455.06,36.95L455.52,36.87L455.97,36.78L456.43,36.7L456.89,36.62L457.35,36.55L457.8,36.47L458.26,36.39L458.72,36.32L459.18,36.24L459.63,36.17L460.09,36.1L460.55,36.02L461.01,35.95L461.46,35.88L461.92,35.82L462.38,35.75L462.84,35.68L463.29,35.61L463.75,35.55L464.21,35.49L464.67,35.42L465.12,35.36L465.58,35.3L466.04,35.24L466.5,35.18L466.96,35.12L467.41,35.06L467.87,35L468.33,34.95L468.79,34.89L469.24,34.83L469.7,34.78L470.16,34.73L470.62,34.67L471.07,34.62L471.53,34.57L471.99,34.52L472.45,34.47L472.9,34.42L473.36,34.37L473.82,34.32L474.28,34.27L474.73,34.23L475.19,34.18L475.65,34.13L476.11,34.09L476.56,34.05L477.02,34L477.48,33.96L477.94,33.92L478.4,33.87L478.85,33.83L479.31,33.79L479.77,33.75L480.23,33.71L480.68,33.67L481.14,33.63L481.6,33.59L482.06,33.56L482.51,33.52L482.97,33.48L483.43,33.45L483.89,33.41L484.34,33.38L484.8,33.34L485.26,33.31L485.72,33.27L486.17,33.24L486.63,33.21L487.09,33.17L487.55,33.14L488,33.11L488.46,33.08L488.92,33.05L489.38,33.02L489.84,32.99L490.29,32.96L490.75,32.93L491.21,32.9L491.67,32.87L492.12,32.84L492.58,32.82L493.04,32.79L493.5,32.76L493.95,32.74L494.41,32.71L494.87,32.68L495.33,32.66L495.78,32.63L496.24,32.61L496.7,32.58L497.16,32.56L497.61,32.54L498.07,32.51L498.53,32.49L498.99,32.47L499.44,32.44L499.9,32.42L500.36,32.4L500.82,32.38L501.28,32.36L501.73,32.34L502.19,32.32L502.65,32.29L503.11,32.27L503.56,32.25L504.02,32.24L504.48,32.22L504.94,32.2L505.39,32.18L505.85,32.16L506.31,32.14L506.77,32.12L507.22,32.1L507.68,32.09L508.14,32.07L508.6,32.05L509.05,32.04L509.51,32.02L509.97,32L510.43,31.99L510.88,31.97L511.34,31.95L511.8,31.94L512.26,31.92L512.72,31.91L513.17,31.89L513.63,31.88L514.09,31.86L514.55,31.85L515,31.84L515.46,31.82L515.92,31.81L516.38,31.79L516.83,31.78L517.29,31.77L517.75,31.75L518.21,31.74L518.66,31.73L519.12,31.72L519.58,31.7L520.04,31.69L520.49,31.68L520.95,31.67L521.41,31.66L521.87,31.64L522.32,31.63L522.78,31.62L523.24,31.61" fill="none" stroke="#CD0BBC" stroke-width="1.4" stroke-linejoin="round" stroke-linecap="butt"/>
<path d="M340.2,217.6L340.66,216.21L341.12,214.81L341.57,213.41L342.03,212L342.49,210.6L342.95,209.19L343.4,207.77L343.86,206.36L344.32,204.95L344.78,203.53L345.23,202.12L345.69,200.7L346.15,199.29L346.61,197.87L347.06,196.46L347.52,195.05L347.98,193.64L348.44,192.23L348.89,190.83L349.35,189.43L349.81,188.03L350.27,186.63L350.72,185.24L351.18,183.85L351.64,182.47L352.1,181.09L352.56,179.71L353.01,178.34L353.47,176.98L353.93,175.62L354.39,174.26L354.84,172.92L355.3,171.57L355.76,170.24L356.22,168.9L356.67,167.58L357.13,166.26L357.59,164.95L358.05,163.64L358.5,162.35L358.96,161.05L359.42,159.77L359.88,158.49L360.33,157.22L360.79,155.96L361.25,154.71L361.71,153.46L362.16,152.22L362.62,150.99L363.08,149.76L363.54,148.55L364,147.34L364.45,146.14L364.91,144.95L365.37,143.76L365.83,142.59L366.28,141.42L366.74,140.26L367.2,139.11L367.66,137.97L368.11,136.83L368.57,135.71L369.03,134.59L369.49,133.48L369.94,132.38L370.4,131.29L370.86,130.21L371.32,129.13L371.77,128.07L372.23,127.01L372.69,125.96L373.15,124.92L373.6,123.89L374.06,122.87L374.52,121.85L374.98,120.85L375.44,119.85L375.89,118.86L376.35,117.88L376.81,116.91L377.27,115.94L377.72,114.99L378.18,114.04L378.64,113.11L379.1,112.18L379.55,111.25L380.01,110.34L380.47,109.44L380.93,108.54L381.38,107.65L381.84,106.77L382.3,105.9L382.76,105.04L383.21,104.19L383.67,103.34L384.13,102.5L384.59,101.67L385.04,100.85L385.5,100.03L385.96,99.22L386.42,98.43L386.88,97.63L387.33,96.85L387.79,96.08L388.25,95.31L388.71,94.55L389.16,93.8L389.62,93.05L390.08,92.31L390.54,91.58L390.99,90.86L391.45,90.15L391.91,89.44L392.37,88.74L392.82,88.04L393.28,87.36L393.74,86.68L394.2,86.01L394.65,85.34L395.11,84.68L395.57,84.03L396.03,83.39L396.48,82.75L396.94,82.12L397.4,81.5L397.86,80.88L398.32,80.27L398.77,79.67L399.23,79.07L399.69,78.48L400.15,77.89L400.6,77.32L401.06,76.74L401.52,76.18L401.98,75.62L402.43,75.07L402.89,74.52L403.35,73.98L403.81,73.44L404.26,72.91L404.72,72.39L405.18,71.87L405.64,71.36L406.09,70.86L406.55,70.36L407.01,69.86L407.47,69.37L407.92,68.89L408.38,68.41L408.84,67.94L409.3,67.47L409.76,67.01L410.21,66.56L410.67,66.1L411.13,65.66L411.59,65.22L412.04,64.78L412.5,64.35L412.96,63.93L413.42,63.51L413.87,63.09L414.33,62.68L414.79,62.27L415.25,61.87L415.7,61.47L416.16,61.08L416.62,60.7L417.08,60.31L417.53,59.93L417.99,59.56L418.45,59.19L418.91,58.83L419.36,58.47L419.82,58.11L420.28,57.76L420.74,57.41L421.2,57.07L421.65,56.73L422.11,56.39L422.57,56.06L423.03,55.73L423.48,55.41L423.94,55.09L424.4,54.77L424.86,54.46L425.31,54.15L425.77,53.85L426.23,53.55L426.69,53.25L427.14,52.96L427.6,52.67L428.06,52.38L428.52,52.1L428.97,51.82L429.43,51.55L429.89,51.27L430.35,51L430.8,50.74L431.26,50.48L431.72,50.22L432.18,49.96L432.64,49.71L433.09,49.46L433.55,49.21L434.01,48.97L434.47,48.73L434.92,48.49L435.38,48.26L435.84,48.03L436.3,47.8L436.75,47.57L437.21,47.35L437.67,47.13L438.13,46.91L438.58,46.7L439.04,46.48L439.5,46.28L439.96,46.07L440.41,45.87L440.87,45.66L441.33,45.47L441.79,45.27L442.24,45.08L442.7,44.88L443.16,44.7L443.62,44.51L444.08,44.32L444.53,44.14L444.99,43.96L445.45,43.79L445.91,43.61L446.36,43.44L446.82,43.27L447.28,43.1L447.74,42.94L448.19,42.77L448.65,42.61L449.11,42.45L449.57,42.29L450.02,42.14L450.48,41.98L450.94,41.83L451.4,41.68L451.85,41.53L452.31,41.39L452.77,41.25L453.23,41.1L453.68,40.96L454.14,40.83L454.6,40.69L455.06,40.55L455.52,40.42L455.97,40.29L456.43,40.16L456.89,40.03L457.35,39.91L457.8,39.78L458.26,39.66L458.72,39.54L459.18,39.42L459.63,39.3L460.09,39.18L460.55,39.07L461.01,38.96L461.46,38.84L461.92,38.73L462.38,38.62L462.84,38.52L463.29,38.41L463.75,38.31L464.21,38.2L464.67,38.1L465.12,38L465.58,37.9L466.04,37.8L466.5,37.71L466.96,37.61L467.41,37.52L467.87,37.42L468.33,37.33L468.79,37.24L469.24,37.15L469.7,37.07L470.16,36.98L470.62,36.89L471.07,36.81L471.53,36.73L471.99,36.64L472.45,36.56L472.9,36.48L473.36,36.4L473.82,36.33L474.28,36.25L474.73,36.17L475.19,36.1L475.65,36.02L476.11,35.95L476.56,35.88L477.02,35.81L477.48,35.74L477.94,35.67L478.4,35.6L478.85,35.54L479.31,35.47L479.77,35.4L480.23,35.34L480.68,35.28L481.14,35.21L481.6,35.15L482.06,35.09L482.51,35.03L482.97,34.97L483.43,34.91L483.89,34.86L484.34,34.8L484.8,34.74L485.26,34.69L485.72,34.63L486.17,34.58L486.63,34.53L487.09,34.47L487.55,34.42L488,34.37L488.46,34.32L488.92,34.27L489.38,34.22L489.84,34.17L490.29,34.13L490.75,34.08L491.21,34.03L491.67,33.99L492.12,33.94L492.58,33.9L493.04,33.85L493.5,33.81L493.95,33.77L494.41,33.73L494.87,33.68L495.33,33.64L495.78,33.6L496.24,33.56L496.7,33.52L497.16,33.49L497.61,33.45L498.07,33.41L498.53,33.37L498.99,33.34L499.44,33.3L499.9,33.27L500.36,33.23L500.82,33.2L501.28,33.16L501.73,33.13L502.19,33.1L502.65,33.06L503.11,33.03L503.56,33L504.02,32.97L504.48,32.94L504.94,32.91L505.39,32.88L505.85,32.85L506.31,32.82L506.77,32.79L507.22,32.76L507.68,32.73L508.14,32.7L508.6,32.68L509.05,32.65L509.51,32.62L509.97,32.6L510.43,32.57L510.88,32.55L511.34,32.52L511.8,32.5L512.26,32.47L512.72,32.45L513.17,32.43L513.63,32.4L514.09,32.38L514.55,32.36L515,32.33L515.46,32.31L515.92,32.29L516.38,32.27L516.83,32.25L517.29,32.23L517.75,32.21L518.21,32.19L518.66,32.17L519.12,32.15L519.58,32.13L520.04,32.11L520.49,32.09L520.95,32.07L521.41,32.05L521.87,32.03L522.32,32.02L522.78,32L523.24,31.98" fill="none" stroke="#F5C710" stroke-width="1.4" stroke-linejoin="round" stroke-linecap="butt"/>
</g>
<rect x="319.6" y="23.6" width="226.4" height="201.6" fill="none" stroke="#5e5e5e" stroke-width="1.1"/>
<line x1="340.2" y1="225.2" x2="340.2" y2="229.5" stroke="#5e5e5e" stroke-width="1.1"/>
<text transform="translate(340.2 240.5) scale(0.9 1)" font-size="7.7" text-anchor="middle" fill="#222222" stroke="#222222" stroke-width="0.12">0</text>
<line x1="385.96" y1="225.2" x2="385.96" y2="229.5" stroke="#5e5e5e" stroke-width="1.1"/>
<text transform="translate(385.96 240.5) scale(0.9 1)" font-size="7.7" text-anchor="middle" fill="#222222" stroke="#222222" stroke-width="0.12">2</text>
<line x1="431.72" y1="225.2" x2="431.72" y2="229.5" stroke="#5e5e5e" stroke-width="1.1"/>
<text transform="translate(431.72 240.5) scale(0.9 1)" font-size="7.7" text-anchor="middle" fill="#222222" stroke="#222222" stroke-width="0.12">4</text>
<line x1="477.48" y1="225.2" x2="477.48" y2="229.5" stroke="#5e5e5e" stroke-width="1.1"/>
<text transform="translate(477.48 240.5) scale(0.9 1)" font-size="7.7" text-anchor="middle" fill="#222222" stroke="#222222" stroke-width="0.12">6</text>
<line x1="523.24" y1="225.2" x2="523.24" y2="229.5" stroke="#5e5e5e" stroke-width="1.1"/>
<text transform="translate(523.24 240.5) scale(0.9 1)" font-size="7.7" text-anchor="middle" fill="#222222" stroke="#222222" stroke-width="0.12">8</text>
<line x1="319.6" y1="217.6" x2="315.1" y2="217.6" stroke="#5e5e5e" stroke-width="1.1"/>
<text transform="translate(309.4 217.6) rotate(-90) scale(0.9 1)" font-size="7.3" text-anchor="middle" fill="#222222" stroke="#222222" stroke-width="0.12">0.0</text>
<line x1="319.6" y1="180.24" x2="315.1" y2="180.24" stroke="#5e5e5e" stroke-width="1.1"/>
<text transform="translate(309.4 180.24) rotate(-90) scale(0.9 1)" font-size="7.3" text-anchor="middle" fill="#222222" stroke="#222222" stroke-width="0.12">0.2</text>
<line x1="319.6" y1="142.88" x2="315.1" y2="142.88" stroke="#5e5e5e" stroke-width="1.1"/>
<text transform="translate(309.4 142.88) rotate(-90) scale(0.9 1)" font-size="7.3" text-anchor="middle" fill="#222222" stroke="#222222" stroke-width="0.12">0.4</text>
<line x1="319.6" y1="105.52" x2="315.1" y2="105.52" stroke="#5e5e5e" stroke-width="1.1"/>
<text transform="translate(309.4 105.52) rotate(-90) scale(0.9 1)" font-size="7.3" text-anchor="middle" fill="#222222" stroke="#222222" stroke-width="0.12">0.6</text>
<line x1="319.6" y1="68.16" x2="315.1" y2="68.16" stroke="#5e5e5e" stroke-width="1.1"/>
<text transform="translate(309.4 68.16) rotate(-90) scale(0.9 1)" font-size="7.3" text-anchor="middle" fill="#222222" stroke="#222222" stroke-width="0.12">0.8</text>
<line x1="319.6" y1="30.8" x2="315.1" y2="30.8" stroke="#5e5e5e" stroke-width="1.1"/>
<text transform="translate(309.4 30.8) rotate(-90) scale(0.9 1)" font-size="7.3" text-anchor="middle" fill="#222222" stroke="#222222" stroke-width="0.12">1.0</text>
<text transform="translate(432.5 257.5) scale(0.9 1)" font-size="7.5" text-anchor="middle" fill="#222222" stroke="#222222" stroke-width="0.12">x</text>
<text transform="translate(292 124) rotate(-90) scale(0.9 1)" font-size="7.5" text-anchor="middle" fill="#222222" stroke="#222222" stroke-width="0.12">F(x)</text>
<rect x="461.5" y="143.5" width="76" height="73.5" fill="#ffffff" stroke="#3a3a3a" stroke-width="0.9"/>
<line x1="468.5" y1="152.7" x2="483" y2="152.7" stroke="#000000" stroke-width="1.4"/>
<text transform="translate(488.9 155.5) scale(0.94 1)" font-size="8.1" fill="#222" stroke="#222" stroke-width="0.2">Empirical-Cdf</text>
<line x1="468.5" y1="161.87" x2="483" y2="161.87" stroke="#DF536B" stroke-width="1.4"/>
<text transform="translate(488.9 164.67) scale(0.94 1)" font-size="8.1" fill="#222" stroke="#222" stroke-width="0.2">OLiP</text>
<line x1="468.5" y1="171.04" x2="483" y2="171.04" stroke="#61D04F" stroke-width="1.4"/>
<text transform="translate(488.9 173.84) scale(0.94 1)" font-size="8.1" fill="#222" stroke="#222" stroke-width="0.2">OGE</text>
<line x1="468.5" y1="180.21" x2="483" y2="180.21" stroke="#2297E6" stroke-width="1.4"/>
<text transform="translate(488.9 183.01) scale(0.94 1)" font-size="8.1" fill="#222" stroke="#222" stroke-width="0.2">OEPL</text>
<line x1="468.5" y1="189.38" x2="483" y2="189.38" stroke="#28E2E5" stroke-width="1.4"/>
<text transform="translate(488.9 192.18) scale(0.94 1)" font-size="8.1" fill="#222" stroke="#222" stroke-width="0.2">PD</text>
<line x1="468.5" y1="198.55" x2="483" y2="198.55" stroke="#CD0BBC" stroke-width="1.4"/>
<text transform="translate(488.9 201.35) scale(0.94 1)" font-size="8.1" fill="#222" stroke="#222" stroke-width="0.2">WE</text>
<line x1="468.5" y1="207.72" x2="483" y2="207.72" stroke="#F5C710" stroke-width="1.4"/>
<text transform="translate(488.9 210.52) scale(0.94 1)" font-size="8.1" fill="#222" stroke="#222" stroke-width="0.2">LD</text>
<text transform="translate(150.8 290)" font-size="8.4" text-anchor="middle" font-weight="bold" fill="#111111" stroke="#111111" stroke-width="0.2">Empirical and theoretical Reliability</text>
<g clip-path="url(#c3)">
<path d="M37.9,310.7L60.74,310.7L60.74,321.69L63.03,321.69L63.03,332.68L67.6,332.68L67.6,349.16L69.89,349.16L69.89,365.64L72.18,365.64L72.18,376.63L76.75,376.63L76.75,382.12L79.04,382.12L79.04,393.11L81.33,393.11L81.33,398.61L83.62,398.61L83.62,404.1L85.91,404.1L85.91,415.09L88.19,415.09L88.19,420.58L99.63,420.58L99.63,426.08L104.21,426.08L104.21,437.06L111.07,437.06L111.07,442.56L113.36,442.56L113.36,448.05L115.65,448.05L115.65,453.55L120.23,453.55L120.23,459.04L124.8,459.04L124.8,464.54L131.67,464.54L131.67,470.03L149.97,470.03L149.97,475.52L175.14,475.52L175.14,481.02L179.71,481.02L179.71,486.51L214.03,486.51L214.03,492.01L241.49,492.01L241.49,497.5L264.5,497.5" fill="none" stroke="#000" stroke-width="1.5" stroke-linejoin="round" stroke-linecap="butt"/>
<circle cx="60.74" cy="321.69" r="1.35" fill="#000"/>
<circle cx="63.03" cy="332.68" r="1.35" fill="#000"/>
<circle cx="67.6" cy="349.16" r="1.35" fill="#000"/>
<circle cx="69.89" cy="365.64" r="1.35" fill="#000"/>
<circle cx="72.18" cy="376.63" r="1.35" fill="#000"/>
<circle cx="76.75" cy="382.12" r="1.35" fill="#000"/>
<circle cx="79.04" cy="393.11" r="1.35" fill="#000"/>
<circle cx="81.33" cy="398.61" r="1.35" fill="#000"/>
<circle cx="83.62" cy="404.1" r="1.35" fill="#000"/>
<circle cx="85.91" cy="415.09" r="1.35" fill="#000"/>
<circle cx="88.19" cy="420.58" r="1.35" fill="#000"/>
<circle cx="99.63" cy="426.08" r="1.35" fill="#000"/>
<circle cx="104.21" cy="437.06" r="1.35" fill="#000"/>
<circle cx="111.07" cy="442.56" r="1.35" fill="#000"/>
<circle cx="113.36" cy="448.05" r="1.35" fill="#000"/>
<circle cx="115.65" cy="453.55" r="1.35" fill="#000"/>
<circle cx="120.23" cy="459.04" r="1.35" fill="#000"/>
<circle cx="124.8" cy="464.54" r="1.35" fill="#000"/>
<circle cx="131.67" cy="470.03" r="1.35" fill="#000"/>
<circle cx="149.97" cy="475.52" r="1.35" fill="#000"/>
<circle cx="175.14" cy="481.02" r="1.35" fill="#000"/>
<circle cx="179.71" cy="486.51" r="1.35" fill="#000"/>
<circle cx="214.03" cy="492.01" r="1.35" fill="#000"/>
<circle cx="241.49" cy="497.5" r="1.35" fill="#000"/>
<path d="M58.91,299.49L59.37,305.55L59.82,310.7L60.28,314.91L60.74,318.58L61.2,321.91L61.65,325L62.11,327.86L62.57,330.55L63.03,333.12L63.48,335.64L63.94,338.15L64.4,340.62L64.86,343.04L65.31,345.39L65.77,347.66L66.23,349.82L66.69,351.86L67.14,353.77L67.6,355.53L68.06,357.19L68.52,358.81L68.97,360.39L69.43,361.94L69.89,363.45L70.35,364.93L70.81,366.38L71.26,367.8L71.72,369.18L72.18,370.54L72.64,371.87L73.09,373.17L73.55,374.45L74.01,375.7L74.47,376.93L74.92,378.14L75.38,379.33L75.84,380.5L76.3,381.64L76.75,382.78L77.21,383.89L77.67,384.99L78.13,386.08L78.58,387.15L79.04,388.21L79.5,389.26L79.96,390.31L80.41,391.34L80.87,392.37L81.33,393.39L81.79,394.4L82.25,395.41L82.7,396.42L83.16,397.43L83.62,398.44L84.08,399.44L84.53,400.43L84.99,401.42L85.45,402.4L85.91,403.37L86.36,404.34L86.82,405.3L87.28,406.25L87.74,407.2L88.19,408.13L88.65,409.07L89.11,409.99L89.57,410.91L90.02,411.81L90.48,412.72L90.94,413.61L91.4,414.5L91.85,415.38L92.31,416.25L92.77,417.12L93.23,417.97L93.69,418.82L94.14,419.66L94.6,420.5L95.06,421.33L95.52,422.15L95.97,422.96L96.43,423.76L96.89,424.56L97.35,425.35L97.8,426.13L98.26,426.9L98.72,427.67L99.18,428.43L99.63,429.18L100.09,429.92L100.55,430.65L101.01,431.38L101.46,432.09L101.92,432.8L102.38,433.51L102.84,434.2L103.29,434.88L103.75,435.56L104.21,436.23L104.67,436.89L105.13,437.55L105.58,438.21L106.04,438.87L106.5,439.52L106.96,440.16L107.41,440.8L107.87,441.44L108.33,442.07L108.79,442.7L109.24,443.32L109.7,443.94L110.16,444.55L110.62,445.15L111.07,445.74L111.53,446.33L111.99,446.91L112.45,447.48L112.9,448.05L113.36,448.6L113.82,449.15L114.28,449.69L114.73,450.21L115.19,450.73L115.65,451.24L116.11,451.73L116.57,452.22L117.02,452.69L117.48,453.15L117.94,453.6L118.4,454.04L118.85,454.47L119.31,454.88L119.77,455.28L120.23,455.66L120.68,456.04L121.14,456.42L121.6,456.79L122.06,457.15L122.51,457.51L122.97,457.87L123.43,458.22L123.89,458.56L124.34,458.91L124.8,459.24L125.26,459.58L125.72,459.91L126.17,460.23L126.63,460.55L127.09,460.87L127.55,461.18L128.01,461.49L128.46,461.79L128.92,462.09L129.38,462.39L129.84,462.68L130.29,462.97L130.75,463.25L131.21,463.54L131.67,463.81L132.12,464.09L132.58,464.36L133.04,464.63L133.5,464.9L133.95,465.16L134.41,465.42L134.87,465.67L135.33,465.93L135.78,466.18L136.24,466.43L136.7,466.67L137.16,466.91L137.61,467.15L138.07,467.39L138.53,467.62L138.99,467.86L139.45,468.09L139.9,468.32L140.36,468.54L140.82,468.76L141.28,468.99L141.73,469.21L142.19,469.42L142.65,469.64L143.11,469.85L143.56,470.07L144.02,470.28L144.48,470.49L144.94,470.71L145.39,470.92L145.85,471.13L146.31,471.35L146.77,471.56L147.22,471.77L147.68,471.98L148.14,472.2L148.6,472.41L149.05,472.62L149.51,472.83L149.97,473.04L150.43,473.25L150.89,473.46L151.34,473.67L151.8,473.88L152.26,474.09L152.72,474.3L153.17,474.51L153.63,474.71L154.09,474.92L154.55,475.13L155,475.33L155.46,475.54L155.92,475.74L156.38,475.95L156.83,476.15L157.29,476.35L157.75,476.56L158.21,476.76L158.66,476.96L159.12,477.16L159.58,477.35L160.04,477.55L160.49,477.75L160.95,477.95L161.41,478.14L161.87,478.33L162.33,478.53L162.78,478.72L163.24,478.91L163.7,479.1L164.16,479.29L164.61,479.48L165.07,479.66L165.53,479.85L165.99,480.03L166.44,480.22L166.9,480.4L167.36,480.58L167.82,480.76L168.27,480.94L168.73,481.12L169.19,481.29L169.65,481.47L170.1,481.64L170.56,481.81L171.02,481.98L171.48,482.15L171.93,482.32L172.39,482.48L172.85,482.64L173.31,482.81L173.77,482.97L174.22,483.13L174.68,483.28L175.14,483.44L175.6,483.59L176.05,483.75L176.51,483.9L176.97,484.05L177.43,484.19L177.88,484.34L178.34,484.48L178.8,484.63L179.26,484.76L179.71,484.9L180.17,485.04L180.63,485.17L181.09,485.31L181.54,485.44L182,485.56L182.46,485.69L182.92,485.81L183.37,485.94L183.83,486.06L184.29,486.17L184.75,486.29L185.21,486.4L185.66,486.51L186.12,486.62L186.58,486.73L187.04,486.83L187.49,486.93L187.95,487.03L188.41,487.13L188.87,487.23L189.32,487.32L189.78,487.41L190.24,487.5L190.7,487.58L191.15,487.66L191.61,487.74L192.07,487.82L192.53,487.9L192.98,487.97L193.44,488.04L193.9,488.11L194.36,488.17L194.81,488.23L195.27,488.29L195.73,488.35L196.19,488.4L196.65,488.46L197.1,488.51L197.56,488.56L198.02,488.62L198.48,488.67L198.93,488.73L199.39,488.78L199.85,488.83L200.31,488.88L200.76,488.94L201.22,488.99L201.68,489.04L202.14,489.09L202.59,489.14L203.05,489.2L203.51,489.25L203.97,489.3L204.42,489.35L204.88,489.4L205.34,489.45L205.8,489.5L206.25,489.55L206.71,489.59L207.17,489.64L207.63,489.69L208.09,489.74L208.54,489.79L209,489.83L209.46,489.88L209.92,489.92L210.37,489.97L210.83,490.02L211.29,490.06L211.75,490.1L212.2,490.15L212.66,490.19L213.12,490.23L213.58,490.28L214.03,490.32L214.49,490.36L214.95,490.4L215.41,490.44L215.86,490.48L216.32,490.52L216.78,490.56L217.24,490.6L217.69,490.64L218.15,490.68L218.61,490.71L219.07,490.75L219.53,490.79L219.98,490.82L220.44,490.86L220.9,490.89L221.36,490.92L221.81,490.96L222.27,490.99L222.73,491.02L223.19,491.05L223.64,491.08L224.1,491.11L224.56,491.14L225.02,491.17L225.47,491.2L225.93,491.23L226.39,491.25L226.85,491.28L227.3,491.3L227.76,491.33L228.22,491.35L228.68,491.38L229.13,491.4L229.59,491.42L230.05,491.44L230.51,491.46L230.97,491.48L231.42,491.5L231.88,491.52L232.34,491.53L232.8,491.55L233.25,491.57L233.71,491.58L234.17,491.6L234.63,491.61L235.08,491.62L235.54,491.63L236,491.64L236.46,491.66L236.91,491.66L237.37,491.67L237.83,491.68L238.29,491.69L238.74,491.69L239.2,491.7L239.66,491.7L240.12,491.71L240.57,491.71L241.03,491.71L241.49,491.71" fill="none" stroke="#DF536B" stroke-width="1.3" stroke-linejoin="round" stroke-linecap="butt"/>
<path d="M58.45,310.7L58.91,311.83L59.37,312.96L59.82,314.11L60.28,315.27L60.74,316.43L61.2,317.61L61.65,318.79L62.11,319.98L62.57,321.18L63.03,322.39L63.48,323.6L63.94,324.82L64.4,326.05L64.86,327.28L65.31,328.52L65.77,329.76L66.23,331.01L66.69,332.26L67.14,333.52L67.6,334.78L68.06,336.04L68.52,337.31L68.97,338.58L69.43,339.85L69.89,341.12L70.35,342.4L70.81,343.67L71.26,344.95L71.72,346.23L72.18,347.51L72.64,348.79L73.09,350.07L73.55,351.35L74.01,352.64L74.47,353.92L74.92,355.21L75.38,356.5L75.84,357.8L76.3,359.11L76.75,360.41L77.21,361.72L77.67,363.01L78.13,364.29L78.58,365.56L79.04,366.8L79.5,368.02L79.96,369.22L80.41,370.43L80.87,371.62L81.33,372.82L81.79,374L82.25,375.18L82.7,376.36L83.16,377.52L83.62,378.68L84.08,379.82L84.53,380.96L84.99,382.08L85.45,383.19L85.91,384.29L86.36,385.37L86.82,386.44L87.28,387.49L87.74,388.52L88.19,389.54L88.65,390.54L89.11,391.52L89.57,392.47L90.02,393.41L90.48,394.32L90.94,395.22L91.4,396.11L91.85,397L92.31,397.87L92.77,398.74L93.23,399.6L93.69,400.45L94.14,401.29L94.6,402.13L95.06,402.96L95.52,403.78L95.97,404.59L96.43,405.4L96.89,406.2L97.35,406.99L97.8,407.77L98.26,408.55L98.72,409.32L99.18,410.08L99.63,410.83L100.09,411.58L100.55,412.32L101.01,413.05L101.46,413.78L101.92,414.49L102.38,415.2L102.84,415.91L103.29,416.61L103.75,417.29L104.21,417.98L104.67,418.65L105.13,419.32L105.58,419.97L106.04,420.62L106.5,421.26L106.96,421.89L107.41,422.52L107.87,423.13L108.33,423.74L108.79,424.34L109.24,424.93L109.7,425.51L110.16,426.09L110.62,426.66L111.07,427.22L111.53,427.77L111.99,428.32L112.45,428.86L112.9,429.4L113.36,429.92L113.82,430.45L114.28,430.96L114.73,431.47L115.19,431.97L115.65,432.47L116.11,432.96L116.57,433.45L117.02,433.93L117.48,434.41L117.94,434.88L118.4,435.34L118.85,435.81L119.31,436.26L119.77,436.71L120.23,437.16L120.68,437.61L121.14,438.05L121.6,438.48L122.06,438.91L122.51,439.34L122.97,439.77L123.43,440.19L123.89,440.61L124.34,441.02L124.8,441.43L125.26,441.84L125.72,442.24L126.17,442.64L126.63,443.03L127.09,443.41L127.55,443.79L128.01,444.17L128.46,444.54L128.92,444.9L129.38,445.26L129.84,445.62L130.29,445.97L130.75,446.32L131.21,446.66L131.67,447L132.12,447.33L132.58,447.66L133.04,447.99L133.5,448.31L133.95,448.63L134.41,448.95L134.87,449.26L135.33,449.57L135.78,449.88L136.24,450.19L136.7,450.49L137.16,450.79L137.61,451.08L138.07,451.38L138.53,451.67L138.99,451.96L139.45,452.25L139.9,452.54L140.36,452.82L140.82,453.1L141.28,453.39L141.73,453.67L142.19,453.95L142.65,454.23L143.11,454.5L143.56,454.78L144.02,455.05L144.48,455.32L144.94,455.59L145.39,455.85L145.85,456.12L146.31,456.38L146.77,456.64L147.22,456.89L147.68,457.15L148.14,457.4L148.6,457.65L149.05,457.89L149.51,458.14L149.97,458.38L150.43,458.62L150.89,458.86L151.34,459.09L151.8,459.32L152.26,459.56L152.72,459.79L153.17,460.01L153.63,460.24L154.09,460.46L154.55,460.68L155,460.9L155.46,461.12L155.92,461.34L156.38,461.55L156.83,461.76L157.29,461.97L157.75,462.18L158.21,462.39L158.66,462.6L159.12,462.8L159.58,463L160.04,463.2L160.49,463.4L160.95,463.6L161.41,463.79L161.87,463.99L162.33,464.18L162.78,464.37L163.24,464.56L163.7,464.75L164.16,464.94L164.61,465.12L165.07,465.31L165.53,465.49L165.99,465.67L166.44,465.85L166.9,466.03L167.36,466.21L167.82,466.38L168.27,466.56L168.73,466.73L169.19,466.9L169.65,467.08L170.1,467.25L170.56,467.42L171.02,467.58L171.48,467.75L171.93,467.92L172.39,468.08L172.85,468.24L173.31,468.41L173.77,468.57L174.22,468.73L174.68,468.89L175.14,469.05L175.6,469.2L176.05,469.36L176.51,469.52L176.97,469.67L177.43,469.83L177.88,469.98L178.34,470.13L178.8,470.28L179.26,470.43L179.71,470.58L180.17,470.73L180.63,470.88L181.09,471.03L181.54,471.18L182,471.32L182.46,471.47L182.92,471.61L183.37,471.76L183.83,471.9L184.29,472.04L184.75,472.19L185.21,472.33L185.66,472.47L186.12,472.61L186.58,472.75L187.04,472.89L187.49,473.02L187.95,473.16L188.41,473.3L188.87,473.44L189.32,473.57L189.78,473.71L190.24,473.84L190.7,473.98L191.15,474.11L191.61,474.25L192.07,474.38L192.53,474.51L192.98,474.65L193.44,474.78L193.9,474.91L194.36,475.04L194.81,475.17L195.27,475.3L195.73,475.43L196.19,475.56L196.65,475.69L197.1,475.82L197.56,475.95L198.02,476.07L198.48,476.2L198.93,476.32L199.39,476.45L199.85,476.57L200.31,476.69L200.76,476.81L201.22,476.93L201.68,477.05L202.14,477.17L202.59,477.29L203.05,477.41L203.51,477.52L203.97,477.64L204.42,477.76L204.88,477.87L205.34,477.98L205.8,478.1L206.25,478.21L206.71,478.32L207.17,478.43L207.63,478.54L208.09,478.65L208.54,478.76L209,478.87L209.46,478.98L209.92,479.08L210.37,479.19L210.83,479.3L211.29,479.4L211.75,479.51L212.2,479.61L212.66,479.72L213.12,479.82L213.58,479.92L214.03,480.02L214.49,480.12L214.95,480.23L215.41,480.33L215.86,480.43L216.32,480.52L216.78,480.62L217.24,480.72L217.69,480.82L218.15,480.92L218.61,481.01L219.07,481.11L219.53,481.2L219.98,481.3L220.44,481.4L220.9,481.49L221.36,481.58L221.81,481.68L222.27,481.77L222.73,481.86L223.19,481.95L223.64,482.05L224.1,482.14L224.56,482.23L225.02,482.32L225.47,482.41L225.93,482.5L226.39,482.59L226.85,482.68L227.3,482.77L227.76,482.85L228.22,482.94L228.68,483.03L229.13,483.12L229.59,483.2L230.05,483.29L230.51,483.37L230.97,483.46L231.42,483.55L231.88,483.63L232.34,483.71L232.8,483.8L233.25,483.88L233.71,483.97L234.17,484.05L234.63,484.13L235.08,484.22L235.54,484.3L236,484.38L236.46,484.46L236.91,484.54L237.37,484.62L237.83,484.7L238.29,484.79L238.74,484.87L239.2,484.95L239.66,485.03L240.12,485.1L240.57,485.18L241.03,485.26L241.49,485.34" fill="none" stroke="#61D04F" stroke-width="1.4" stroke-linejoin="round" stroke-linecap="butt"/>
<path d="M58.45,310.7L58.91,312.76L59.37,314.8L59.82,316.82L60.28,318.82L60.74,320.8L61.2,322.76L61.65,324.7L62.11,326.63L62.57,328.53L63.03,330.42L63.48,332.29L63.94,334.14L64.4,335.97L64.86,337.79L65.31,339.59L65.77,341.37L66.23,343.14L66.69,344.89L67.14,346.62L67.6,348.34L68.06,350.04L68.52,351.73L68.97,353.41L69.43,355.07L69.89,356.72L70.35,358.35L70.81,359.97L71.26,361.58L71.72,363.17L72.18,364.74L72.64,366.3L73.09,367.84L73.55,369.37L74.01,370.88L74.47,372.37L74.92,373.85L75.38,375.3L75.84,376.75L76.3,378.17L76.75,379.57L77.21,380.96L77.67,382.33L78.13,383.68L78.58,385.02L79.04,386.33L79.5,387.63L79.96,388.91L80.41,390.17L80.87,391.41L81.33,392.63L81.79,393.84L82.25,395.03L82.7,396.19L83.16,397.34L83.62,398.48L84.08,399.59L84.53,400.69L84.99,401.77L85.45,402.83L85.91,403.88L86.36,404.91L86.82,405.93L87.28,406.93L87.74,407.92L88.19,408.89L88.65,409.86L89.11,410.81L89.57,411.75L90.02,412.67L90.48,413.59L90.94,414.49L91.4,415.38L91.85,416.26L92.31,417.14L92.77,418L93.23,418.85L93.69,419.7L94.14,420.53L94.6,421.36L95.06,422.18L95.52,422.99L95.97,423.79L96.43,424.59L96.89,425.37L97.35,426.15L97.8,426.93L98.26,427.7L98.72,428.46L99.18,429.21L99.63,429.96L100.09,430.7L100.55,431.44L101.01,432.17L101.46,432.9L101.92,433.62L102.38,434.34L102.84,435.05L103.29,435.76L103.75,436.46L104.21,437.16L104.67,437.85L105.13,438.54L105.58,439.22L106.04,439.89L106.5,440.56L106.96,441.22L107.41,441.88L107.87,442.53L108.33,443.18L108.79,443.82L109.24,444.45L109.7,445.08L110.16,445.71L110.62,446.32L111.07,446.94L111.53,447.55L111.99,448.15L112.45,448.75L112.9,449.34L113.36,449.93L113.82,450.51L114.28,451.09L114.73,451.66L115.19,452.23L115.65,452.8L116.11,453.36L116.57,453.92L117.02,454.49L117.48,455.05L117.94,455.61L118.4,456.17L118.85,456.73L119.31,457.28L119.77,457.82L120.23,458.36L120.68,458.89L121.14,459.42L121.6,459.94L122.06,460.45L122.51,460.95L122.97,461.44L123.43,461.92L123.89,462.39L124.34,462.85L124.8,463.3L125.26,463.73L125.72,464.16L126.17,464.57L126.63,464.97L127.09,465.36L127.55,465.74L128.01,466.11L128.46,466.47L128.92,466.82L129.38,467.17L129.84,467.5L130.29,467.84L130.75,468.16L131.21,468.48L131.67,468.79L132.12,469.1L132.58,469.4L133.04,469.7L133.5,469.99L133.95,470.28L134.41,470.56L134.87,470.84L135.33,471.12L135.78,471.39L136.24,471.66L136.7,471.93L137.16,472.19L137.61,472.45L138.07,472.71L138.53,472.97L138.99,473.22L139.45,473.47L139.9,473.71L140.36,473.95L140.82,474.19L141.28,474.42L141.73,474.65L142.19,474.88L142.65,475.1L143.11,475.32L143.56,475.54L144.02,475.76L144.48,475.97L144.94,476.18L145.39,476.39L145.85,476.6L146.31,476.8L146.77,477.01L147.22,477.21L147.68,477.41L148.14,477.61L148.6,477.81L149.05,478L149.51,478.2L149.97,478.39L150.43,478.59L150.89,478.78L151.34,478.97L151.8,479.16L152.26,479.35L152.72,479.53L153.17,479.72L153.63,479.9L154.09,480.08L154.55,480.26L155,480.44L155.46,480.62L155.92,480.79L156.38,480.96L156.83,481.14L157.29,481.31L157.75,481.48L158.21,481.64L158.66,481.81L159.12,481.97L159.58,482.13L160.04,482.29L160.49,482.45L160.95,482.61L161.41,482.77L161.87,482.92L162.33,483.07L162.78,483.22L163.24,483.37L163.7,483.52L164.16,483.67L164.61,483.81L165.07,483.95L165.53,484.09L165.99,484.23L166.44,484.37L166.9,484.51L167.36,484.64L167.82,484.78L168.27,484.91L168.73,485.04L169.19,485.17L169.65,485.29L170.1,485.42L170.56,485.54L171.02,485.67L171.48,485.79L171.93,485.91L172.39,486.02L172.85,486.14L173.31,486.26L173.77,486.37L174.22,486.48L174.68,486.6L175.14,486.71L175.6,486.82L176.05,486.93L176.51,487.04L176.97,487.15L177.43,487.26L177.88,487.37L178.34,487.47L178.8,487.58L179.26,487.68L179.71,487.78L180.17,487.88L180.63,487.98L181.09,488.08L181.54,488.18L182,488.28L182.46,488.37L182.92,488.47L183.37,488.56L183.83,488.65L184.29,488.75L184.75,488.83L185.21,488.92L185.66,489.01L186.12,489.1L186.58,489.18L187.04,489.26L187.49,489.35L187.95,489.43L188.41,489.51L188.87,489.59L189.32,489.66L189.78,489.74L190.24,489.81L190.7,489.89L191.15,489.96L191.61,490.03L192.07,490.1L192.53,490.17L192.98,490.24L193.44,490.3L193.9,490.37L194.36,490.43L194.81,490.49L195.27,490.55L195.73,490.61L196.19,490.67L196.65,490.73L197.1,490.78L197.56,490.84L198.02,490.9L198.48,490.95L198.93,491.01L199.39,491.06L199.85,491.11L200.31,491.17L200.76,491.22L201.22,491.27L201.68,491.32L202.14,491.38L202.59,491.43L203.05,491.48L203.51,491.52L203.97,491.57L204.42,491.62L204.88,491.67L205.34,491.72L205.8,491.76L206.25,491.81L206.71,491.86L207.17,491.9L207.63,491.95L208.09,491.99L208.54,492.03L209,492.08L209.46,492.12L209.92,492.16L210.37,492.2L210.83,492.25L211.29,492.29L211.75,492.33L212.2,492.37L212.66,492.41L213.12,492.45L213.58,492.48L214.03,492.52L214.49,492.56L214.95,492.6L215.41,492.63L215.86,492.67L216.32,492.71L216.78,492.74L217.24,492.78L217.69,492.81L218.15,492.85L218.61,492.88L219.07,492.91L219.53,492.95L219.98,492.98L220.44,493.01L220.9,493.05L221.36,493.08L221.81,493.11L222.27,493.14L222.73,493.17L223.19,493.2L223.64,493.23L224.1,493.26L224.56,493.29L225.02,493.32L225.47,493.35L225.93,493.37L226.39,493.4L226.85,493.43L227.3,493.46L227.76,493.48L228.22,493.51L228.68,493.54L229.13,493.56L229.59,493.59L230.05,493.61L230.51,493.64L230.97,493.66L231.42,493.69L231.88,493.71L232.34,493.73L232.8,493.76L233.25,493.78L233.71,493.8L234.17,493.83L234.63,493.85L235.08,493.87L235.54,493.89L236,493.91L236.46,493.93L236.91,493.95L237.37,493.97L237.83,493.99L238.29,494.01L238.74,494.03L239.2,494.05L239.66,494.07L240.12,494.09L240.57,494.11L241.03,494.13L241.49,494.15" fill="none" stroke="#2297E6" stroke-width="1.4" stroke-linejoin="round" stroke-linecap="butt"/>
<path d="M58.45,310.7L58.91,312.69L59.37,314.66L59.82,316.6L60.28,318.53L60.74,320.43L61.2,322.32L61.65,324.18L62.11,326.02L62.57,327.85L63.03,329.66L63.48,331.44L63.94,333.21L64.4,334.96L64.86,336.69L65.31,338.4L65.77,340.09L66.23,341.77L66.69,343.43L67.14,345.06L67.6,346.69L68.06,348.29L68.52,349.88L68.97,351.45L69.43,353.01L69.89,354.54L70.35,356.07L70.81,357.57L71.26,359.06L71.72,360.53L72.18,361.99L72.64,363.43L73.09,364.86L73.55,366.27L74.01,367.67L74.47,369.05L74.92,370.42L75.38,371.77L75.84,373.11L76.3,374.43L76.75,375.74L77.21,377.04L77.67,378.32L78.13,379.59L78.58,380.84L79.04,382.08L79.5,383.31L79.96,384.53L80.41,385.73L80.87,386.92L81.33,388.1L81.79,389.26L82.25,390.41L82.7,391.55L83.16,392.68L83.62,393.8L84.08,394.9L84.53,395.99L84.99,397.07L85.45,398.14L85.91,399.2L86.36,400.24L86.82,401.28L87.28,402.3L87.74,403.32L88.19,404.32L88.65,405.31L89.11,406.29L89.57,407.26L90.02,408.22L90.48,409.17L90.94,410.11L91.4,411.04L91.85,411.96L92.31,412.87L92.77,413.77L93.23,414.67L93.69,415.55L94.14,416.42L94.6,417.28L95.06,418.14L95.52,418.98L95.97,419.82L96.43,420.64L96.89,421.46L97.35,422.27L97.8,423.07L98.26,423.86L98.72,424.65L99.18,425.42L99.63,426.19L100.09,426.95L100.55,427.7L101.01,428.44L101.46,429.18L101.92,429.9L102.38,430.62L102.84,431.34L103.29,432.04L103.75,432.74L104.21,433.43L104.67,434.11L105.13,434.78L105.58,435.45L106.04,436.11L106.5,436.76L106.96,437.41L107.41,438.05L107.87,438.68L108.33,439.31L108.79,439.93L109.24,440.54L109.7,441.15L110.16,441.75L110.62,442.34L111.07,442.93L111.53,443.51L111.99,444.08L112.45,444.65L112.9,445.21L113.36,445.77L113.82,446.32L114.28,446.87L114.73,447.4L115.19,447.94L115.65,448.46L116.11,448.99L116.57,449.5L117.02,450.01L117.48,450.52L117.94,451.02L118.4,451.51L118.85,452L119.31,452.49L119.77,452.97L120.23,453.44L120.68,453.91L121.14,454.37L121.6,454.83L122.06,455.29L122.51,455.74L122.97,456.18L123.43,456.62L123.89,457.06L124.34,457.49L124.8,457.91L125.26,458.33L125.72,458.75L126.17,459.16L126.63,459.57L127.09,459.97L127.55,460.37L128.01,460.77L128.46,461.16L128.92,461.55L129.38,461.93L129.84,462.31L130.29,462.68L130.75,463.05L131.21,463.42L131.67,463.78L132.12,464.14L132.58,464.5L133.04,464.85L133.5,465.19L133.95,465.54L134.41,465.88L134.87,466.22L135.33,466.55L135.78,466.88L136.24,467.2L136.7,467.53L137.16,467.84L137.61,468.16L138.07,468.47L138.53,468.78L138.99,469.09L139.45,469.39L139.9,469.69L140.36,469.98L140.82,470.28L141.28,470.57L141.73,470.85L142.19,471.14L142.65,471.42L143.11,471.7L143.56,471.97L144.02,472.24L144.48,472.51L144.94,472.78L145.39,473.04L145.85,473.3L146.31,473.56L146.77,473.81L147.22,474.06L147.68,474.31L148.14,474.56L148.6,474.81L149.05,475.05L149.51,475.29L149.97,475.52L150.43,475.76L150.89,475.99L151.34,476.22L151.8,476.44L152.26,476.67L152.72,476.89L153.17,477.11L153.63,477.33L154.09,477.54L154.55,477.75L155,477.96L155.46,478.17L155.92,478.38L156.38,478.58L156.83,478.78L157.29,478.98L157.75,479.18L158.21,479.37L158.66,479.57L159.12,479.76L159.58,479.95L160.04,480.13L160.49,480.32L160.95,480.5L161.41,480.68L161.87,480.86L162.33,481.04L162.78,481.21L163.24,481.39L163.7,481.56L164.16,481.73L164.61,481.89L165.07,482.06L165.53,482.22L165.99,482.39L166.44,482.55L166.9,482.71L167.36,482.86L167.82,483.02L168.27,483.17L168.73,483.33L169.19,483.48L169.65,483.63L170.1,483.77L170.56,483.92L171.02,484.07L171.48,484.21L171.93,484.35L172.39,484.49L172.85,484.63L173.31,484.77L173.77,484.9L174.22,485.03L174.68,485.17L175.14,485.3L175.6,485.43L176.05,485.56L176.51,485.68L176.97,485.81L177.43,485.93L177.88,486.06L178.34,486.18L178.8,486.3L179.26,486.42L179.71,486.54L180.17,486.65L180.63,486.77L181.09,486.88L181.54,487L182,487.11L182.46,487.22L182.92,487.33L183.37,487.44L183.83,487.54L184.29,487.65L184.75,487.75L185.21,487.86L185.66,487.96L186.12,488.06L186.58,488.16L187.04,488.26L187.49,488.36L187.95,488.46L188.41,488.55L188.87,488.65L189.32,488.74L189.78,488.84L190.24,488.93L190.7,489.02L191.15,489.11L191.61,489.2L192.07,489.29L192.53,489.38L192.98,489.46L193.44,489.55L193.9,489.63L194.36,489.72L194.81,489.8L195.27,489.88L195.73,489.96L196.19,490.04L196.65,490.12L197.1,490.2L197.56,490.28L198.02,490.35L198.48,490.43L198.93,490.51L199.39,490.58L199.85,490.65L200.31,490.73L200.76,490.8L201.22,490.87L201.68,490.94L202.14,491.01L202.59,491.08L203.05,491.15L203.51,491.22L203.97,491.28L204.42,491.35L204.88,491.41L205.34,491.48L205.8,491.54L206.25,491.61L206.71,491.67L207.17,491.73L207.63,491.79L208.09,491.85L208.54,491.91L209,491.97L209.46,492.03L209.92,492.09L210.37,492.15L210.83,492.2L211.29,492.26L211.75,492.32L212.2,492.37L212.66,492.43L213.12,492.48L213.58,492.53L214.03,492.59L214.49,492.64L214.95,492.69L215.41,492.74L215.86,492.79L216.32,492.84L216.78,492.89L217.24,492.94L217.69,492.99L218.15,493.04L218.61,493.08L219.07,493.13L219.53,493.18L219.98,493.22L220.44,493.27L220.9,493.31L221.36,493.36L221.81,493.4L222.27,493.45L222.73,493.49L223.19,493.53L223.64,493.58L224.1,493.62L224.56,493.66L225.02,493.7L225.47,493.74L225.93,493.78L226.39,493.82L226.85,493.86L227.3,493.9L227.76,493.94L228.22,493.97L228.68,494.01L229.13,494.05L229.59,494.08L230.05,494.12L230.51,494.16L230.97,494.19L231.42,494.23L231.88,494.26L232.34,494.3L232.8,494.33L233.25,494.36L233.71,494.4L234.17,494.43L234.63,494.46L235.08,494.5L235.54,494.53L236,494.56L236.46,494.59L236.91,494.62L237.37,494.65L237.83,494.68L238.29,494.71L238.74,494.74L239.2,494.77L239.66,494.8L240.12,494.83L240.57,494.86L241.03,494.89L241.49,494.91" fill="none" stroke="#28E2E5" stroke-width="1.4" stroke-linejoin="round" stroke-linecap="butt"/>
<path d="M58.45,310.7L58.91,313.22L59.37,315.71L59.82,318.17L60.28,320.59L60.74,322.98L61.2,325.34L61.65,327.66L62.11,329.96L62.57,332.22L63.03,334.45L63.48,336.66L63.94,338.83L64.4,340.97L64.86,343.09L65.31,345.17L65.77,347.23L66.23,349.26L66.69,351.26L67.14,353.24L67.6,355.19L68.06,357.11L68.52,359L68.97,360.88L69.43,362.72L69.89,364.54L70.35,366.34L70.81,368.11L71.26,369.86L71.72,371.58L72.18,373.28L72.64,374.96L73.09,376.62L73.55,378.25L74.01,379.86L74.47,381.45L74.92,383.02L75.38,384.56L75.84,386.09L76.3,387.59L76.75,389.08L77.21,390.54L77.67,391.99L78.13,393.41L78.58,394.82L79.04,396.2L79.5,397.57L79.96,398.92L80.41,400.25L80.87,401.57L81.33,402.86L81.79,404.14L82.25,405.4L82.7,406.65L83.16,407.87L83.62,409.09L84.08,410.28L84.53,411.46L84.99,412.62L85.45,413.77L85.91,414.9L86.36,416.01L86.82,417.11L87.28,418.2L87.74,419.27L88.19,420.33L88.65,421.37L89.11,422.4L89.57,423.41L90.02,424.41L90.48,425.4L90.94,426.38L91.4,427.34L91.85,428.28L92.31,429.22L92.77,430.14L93.23,431.05L93.69,431.95L94.14,432.83L94.6,433.71L95.06,434.57L95.52,435.42L95.97,436.26L96.43,437.08L96.89,437.9L97.35,438.71L97.8,439.5L98.26,440.28L98.72,441.06L99.18,441.82L99.63,442.57L100.09,443.31L100.55,444.05L101.01,444.77L101.46,445.48L101.92,446.18L102.38,446.88L102.84,447.56L103.29,448.23L103.75,448.9L104.21,449.56L104.67,450.2L105.13,450.84L105.58,451.47L106.04,452.09L106.5,452.71L106.96,453.31L107.41,453.91L107.87,454.5L108.33,455.08L108.79,455.65L109.24,456.22L109.7,456.78L110.16,457.33L110.62,457.87L111.07,458.4L111.53,458.93L111.99,459.45L112.45,459.97L112.9,460.47L113.36,460.97L113.82,461.47L114.28,461.95L114.73,462.43L115.19,462.91L115.65,463.37L116.11,463.84L116.57,464.29L117.02,464.74L117.48,465.18L117.94,465.62L118.4,466.05L118.85,466.47L119.31,466.89L119.77,467.31L120.23,467.71L120.68,468.12L121.14,468.51L121.6,468.9L122.06,469.29L122.51,469.67L122.97,470.05L123.43,470.42L123.89,470.78L124.34,471.15L124.8,471.5L125.26,471.85L125.72,472.2L126.17,472.54L126.63,472.88L127.09,473.21L127.55,473.54L128.01,473.86L128.46,474.18L128.92,474.5L129.38,474.81L129.84,475.11L130.29,475.42L130.75,475.71L131.21,476.01L131.67,476.3L132.12,476.59L132.58,476.87L133.04,477.15L133.5,477.42L133.95,477.69L134.41,477.96L134.87,478.22L135.33,478.48L135.78,478.74L136.24,479L136.7,479.25L137.16,479.49L137.61,479.73L138.07,479.97L138.53,480.21L138.99,480.45L139.45,480.68L139.9,480.9L140.36,481.13L140.82,481.35L141.28,481.57L141.73,481.78L142.19,481.99L142.65,482.2L143.11,482.41L143.56,482.61L144.02,482.81L144.48,483.01L144.94,483.21L145.39,483.4L145.85,483.59L146.31,483.78L146.77,483.97L147.22,484.15L147.68,484.33L148.14,484.51L148.6,484.68L149.05,484.86L149.51,485.03L149.97,485.19L150.43,485.36L150.89,485.52L151.34,485.69L151.8,485.85L152.26,486L152.72,486.16L153.17,486.31L153.63,486.46L154.09,486.61L154.55,486.76L155,486.9L155.46,487.05L155.92,487.19L156.38,487.33L156.83,487.47L157.29,487.6L157.75,487.73L158.21,487.87L158.66,488L159.12,488.13L159.58,488.25L160.04,488.38L160.49,488.5L160.95,488.62L161.41,488.74L161.87,488.86L162.33,488.98L162.78,489.09L163.24,489.21L163.7,489.32L164.16,489.43L164.61,489.54L165.07,489.64L165.53,489.75L165.99,489.86L166.44,489.96L166.9,490.06L167.36,490.16L167.82,490.26L168.27,490.36L168.73,490.45L169.19,490.55L169.65,490.64L170.1,490.74L170.56,490.83L171.02,490.92L171.48,491.01L171.93,491.09L172.39,491.18L172.85,491.27L173.31,491.35L173.77,491.43L174.22,491.52L174.68,491.6L175.14,491.68L175.6,491.75L176.05,491.83L176.51,491.91L176.97,491.98L177.43,492.06L177.88,492.13L178.34,492.2L178.8,492.28L179.26,492.35L179.71,492.42L180.17,492.48L180.63,492.55L181.09,492.62L181.54,492.69L182,492.75L182.46,492.81L182.92,492.88L183.37,492.94L183.83,493L184.29,493.06L184.75,493.12L185.21,493.18L185.66,493.24L186.12,493.3L186.58,493.35L187.04,493.41L187.49,493.47L187.95,493.52L188.41,493.57L188.87,493.63L189.32,493.68L189.78,493.73L190.24,493.78L190.7,493.83L191.15,493.88L191.61,493.93L192.07,493.98L192.53,494.03L192.98,494.07L193.44,494.12L193.9,494.17L194.36,494.21L194.81,494.25L195.27,494.3L195.73,494.34L196.19,494.38L196.65,494.43L197.1,494.47L197.56,494.51L198.02,494.55L198.48,494.59L198.93,494.63L199.39,494.67L199.85,494.71L200.31,494.74L200.76,494.78L201.22,494.82L201.68,494.85L202.14,494.89L202.59,494.92L203.05,494.96L203.51,494.99L203.97,495.03L204.42,495.06L204.88,495.09L205.34,495.13L205.8,495.16L206.25,495.19L206.71,495.22L207.17,495.25L207.63,495.28L208.09,495.31L208.54,495.34L209,495.37L209.46,495.4L209.92,495.43L210.37,495.46L210.83,495.48L211.29,495.51L211.75,495.54L212.2,495.56L212.66,495.59L213.12,495.62L213.58,495.64L214.03,495.67L214.49,495.69L214.95,495.72L215.41,495.74L215.86,495.76L216.32,495.79L216.78,495.81L217.24,495.83L217.69,495.86L218.15,495.88L218.61,495.9L219.07,495.92L219.53,495.94L219.98,495.96L220.44,495.98L220.9,496.01L221.36,496.03L221.81,496.05L222.27,496.06L222.73,496.08L223.19,496.1L223.64,496.12L224.1,496.14L224.56,496.16L225.02,496.18L225.47,496.2L225.93,496.21L226.39,496.23L226.85,496.25L227.3,496.26L227.76,496.28L228.22,496.3L228.68,496.31L229.13,496.33L229.59,496.35L230.05,496.36L230.51,496.38L230.97,496.39L231.42,496.41L231.88,496.42L232.34,496.44L232.8,496.45L233.25,496.46L233.71,496.48L234.17,496.49L234.63,496.51L235.08,496.52L235.54,496.53L236,496.55L236.46,496.56L236.91,496.57L237.37,496.58L237.83,496.6L238.29,496.61L238.74,496.62L239.2,496.63L239.66,496.64L240.12,496.66L240.57,496.67L241.03,496.68L241.49,496.69" fill="none" stroke="#CD0BBC" stroke-width="1.4" stroke-linejoin="round" stroke-linecap="butt"/>
<path d="M58.45,310.7L58.91,312.09L59.37,313.49L59.82,314.89L60.28,316.3L60.74,317.7L61.2,319.11L61.65,320.53L62.11,321.94L62.57,323.35L63.03,324.77L63.48,326.18L63.94,327.6L64.4,329.01L64.86,330.43L65.31,331.84L65.77,333.25L66.23,334.66L66.69,336.07L67.14,337.47L67.6,338.87L68.06,340.27L68.52,341.67L68.97,343.06L69.43,344.45L69.89,345.83L70.35,347.21L70.81,348.59L71.26,349.96L71.72,351.32L72.18,352.68L72.64,354.04L73.09,355.38L73.55,356.73L74.01,358.06L74.47,359.4L74.92,360.72L75.38,362.04L75.84,363.35L76.3,364.66L76.75,365.95L77.21,367.25L77.67,368.53L78.13,369.81L78.58,371.08L79.04,372.34L79.5,373.59L79.96,374.84L80.41,376.08L80.87,377.31L81.33,378.54L81.79,379.75L82.25,380.96L82.7,382.16L83.16,383.35L83.62,384.54L84.08,385.71L84.53,386.88L84.99,388.04L85.45,389.19L85.91,390.33L86.36,391.47L86.82,392.59L87.28,393.71L87.74,394.82L88.19,395.92L88.65,397.01L89.11,398.09L89.57,399.17L90.02,400.23L90.48,401.29L90.94,402.34L91.4,403.38L91.85,404.41L92.31,405.43L92.77,406.45L93.23,407.45L93.69,408.45L94.14,409.44L94.6,410.42L95.06,411.39L95.52,412.36L95.97,413.31L96.43,414.26L96.89,415.19L97.35,416.12L97.8,417.05L98.26,417.96L98.72,418.86L99.18,419.76L99.63,420.65L100.09,421.53L100.55,422.4L101.01,423.26L101.46,424.11L101.92,424.96L102.38,425.8L102.84,426.63L103.29,427.45L103.75,428.27L104.21,429.08L104.67,429.87L105.13,430.67L105.58,431.45L106.04,432.22L106.5,432.99L106.96,433.75L107.41,434.5L107.87,435.25L108.33,435.99L108.79,436.72L109.24,437.44L109.7,438.15L110.16,438.86L110.62,439.56L111.07,440.26L111.53,440.94L111.99,441.62L112.45,442.29L112.9,442.96L113.36,443.62L113.82,444.27L114.28,444.91L114.73,445.55L115.19,446.18L115.65,446.8L116.11,447.42L116.57,448.03L117.02,448.63L117.48,449.23L117.94,449.82L118.4,450.41L118.85,450.98L119.31,451.56L119.77,452.12L120.23,452.68L120.68,453.23L121.14,453.78L121.6,454.32L122.06,454.86L122.51,455.39L122.97,455.91L123.43,456.43L123.89,456.94L124.34,457.44L124.8,457.94L125.26,458.44L125.72,458.93L126.17,459.41L126.63,459.89L127.09,460.36L127.55,460.83L128.01,461.29L128.46,461.74L128.92,462.2L129.38,462.64L129.84,463.08L130.29,463.52L130.75,463.95L131.21,464.37L131.67,464.79L132.12,465.21L132.58,465.62L133.04,466.03L133.5,466.43L133.95,466.83L134.41,467.22L134.87,467.6L135.33,467.99L135.78,468.37L136.24,468.74L136.7,469.11L137.16,469.47L137.61,469.83L138.07,470.19L138.53,470.54L138.99,470.89L139.45,471.23L139.9,471.57L140.36,471.91L140.82,472.24L141.28,472.57L141.73,472.89L142.19,473.21L142.65,473.53L143.11,473.84L143.56,474.15L144.02,474.45L144.48,474.75L144.94,475.05L145.39,475.34L145.85,475.63L146.31,475.92L146.77,476.2L147.22,476.48L147.68,476.75L148.14,477.03L148.6,477.3L149.05,477.56L149.51,477.82L149.97,478.08L150.43,478.34L150.89,478.59L151.34,478.84L151.8,479.09L152.26,479.33L152.72,479.57L153.17,479.81L153.63,480.04L154.09,480.27L154.55,480.5L155,480.73L155.46,480.95L155.92,481.17L156.38,481.39L156.83,481.6L157.29,481.82L157.75,482.02L158.21,482.23L158.66,482.43L159.12,482.64L159.58,482.83L160.04,483.03L160.49,483.22L160.95,483.42L161.41,483.6L161.87,483.79L162.33,483.98L162.78,484.16L163.24,484.34L163.7,484.51L164.16,484.69L164.61,484.86L165.07,485.03L165.53,485.2L165.99,485.36L166.44,485.53L166.9,485.69L167.36,485.85L167.82,486.01L168.27,486.16L168.73,486.32L169.19,486.47L169.65,486.62L170.1,486.77L170.56,486.91L171.02,487.05L171.48,487.2L171.93,487.34L172.39,487.47L172.85,487.61L173.31,487.75L173.77,487.88L174.22,488.01L174.68,488.14L175.14,488.27L175.6,488.39L176.05,488.52L176.51,488.64L176.97,488.76L177.43,488.88L177.88,489L178.34,489.12L178.8,489.23L179.26,489.34L179.71,489.46L180.17,489.57L180.63,489.68L181.09,489.78L181.54,489.89L182,489.99L182.46,490.1L182.92,490.2L183.37,490.3L183.83,490.4L184.29,490.5L184.75,490.59L185.21,490.69L185.66,490.78L186.12,490.88L186.58,490.97L187.04,491.06L187.49,491.15L187.95,491.23L188.41,491.32L188.87,491.41L189.32,491.49L189.78,491.57L190.24,491.66L190.7,491.74L191.15,491.82L191.61,491.9L192.07,491.97L192.53,492.05L192.98,492.13L193.44,492.2L193.9,492.28L194.36,492.35L194.81,492.42L195.27,492.49L195.73,492.56L196.19,492.63L196.65,492.7L197.1,492.76L197.56,492.83L198.02,492.9L198.48,492.96L198.93,493.02L199.39,493.09L199.85,493.15L200.31,493.21L200.76,493.27L201.22,493.33L201.68,493.39L202.14,493.44L202.59,493.5L203.05,493.56L203.51,493.61L203.97,493.67L204.42,493.72L204.88,493.77L205.34,493.83L205.8,493.88L206.25,493.93L206.71,493.98L207.17,494.03L207.63,494.08L208.09,494.13L208.54,494.17L209,494.22L209.46,494.27L209.92,494.31L210.37,494.36L210.83,494.4L211.29,494.45L211.75,494.49L212.2,494.53L212.66,494.57L213.12,494.62L213.58,494.66L214.03,494.7L214.49,494.74L214.95,494.78L215.41,494.81L215.86,494.85L216.32,494.89L216.78,494.93L217.24,494.96L217.69,495L218.15,495.03L218.61,495.07L219.07,495.1L219.53,495.14L219.98,495.17L220.44,495.2L220.9,495.24L221.36,495.27L221.81,495.3L222.27,495.33L222.73,495.36L223.19,495.39L223.64,495.42L224.1,495.45L224.56,495.48L225.02,495.51L225.47,495.54L225.93,495.57L226.39,495.6L226.85,495.62L227.3,495.65L227.76,495.68L228.22,495.7L228.68,495.73L229.13,495.75L229.59,495.78L230.05,495.8L230.51,495.83L230.97,495.85L231.42,495.87L231.88,495.9L232.34,495.92L232.8,495.94L233.25,495.97L233.71,495.99L234.17,496.01L234.63,496.03L235.08,496.05L235.54,496.07L236,496.09L236.46,496.11L236.91,496.13L237.37,496.15L237.83,496.17L238.29,496.19L238.74,496.21L239.2,496.23L239.66,496.25L240.12,496.27L240.57,496.28L241.03,496.3L241.49,496.32" fill="none" stroke="#F5C710" stroke-width="1.4" stroke-linejoin="round" stroke-linecap="butt"/>
</g>
<rect x="37.9" y="303.9" width="226.6" height="201.3" fill="none" stroke="#5e5e5e" stroke-width="1.1"/>
<line x1="58.45" y1="505.2" x2="58.45" y2="509.5" stroke="#5e5e5e" stroke-width="1.1"/>
<text transform="translate(58.45 520.5) scale(0.9 1)" font-size="7.7" text-anchor="middle" fill="#222222" stroke="#222222" stroke-width="0.12">0</text>
<line x1="104.21" y1="505.2" x2="104.21" y2="509.5" stroke="#5e5e5e" stroke-width="1.1"/>
<text transform="translate(104.21 520.5) scale(0.9 1)" font-size="7.7" text-anchor="middle" fill="#222222" stroke="#222222" stroke-width="0.12">2</text>
<line x1="149.97" y1="505.2" x2="149.97" y2="509.5" stroke="#5e5e5e" stroke-width="1.1"/>
<text transform="translate(149.97 520.5) scale(0.9 1)" font-size="7.7" text-anchor="middle" fill="#222222" stroke="#222222" stroke-width="0.12">4</text>
<line x1="195.73" y1="505.2" x2="195.73" y2="509.5" stroke="#5e5e5e" stroke-width="1.1"/>
<text transform="translate(195.73 520.5) scale(0.9 1)" font-size="7.7" text-anchor="middle" fill="#222222" stroke="#222222" stroke-width="0.12">6</text>
<line x1="241.49" y1="505.2" x2="241.49" y2="509.5" stroke="#5e5e5e" stroke-width="1.1"/>
<text transform="translate(241.49 520.5) scale(0.9 1)" font-size="7.7" text-anchor="middle" fill="#222222" stroke="#222222" stroke-width="0.12">8</text>
<line x1="37.9" y1="497.5" x2="33.4" y2="497.5" stroke="#5e5e5e" stroke-width="1.1"/>
<text transform="translate(27.7 497.5) rotate(-90) scale(0.9 1)" font-size="7.3" text-anchor="middle" fill="#222222" stroke="#222222" stroke-width="0.12">0.0</text>
<line x1="37.9" y1="460.14" x2="33.4" y2="460.14" stroke="#5e5e5e" stroke-width="1.1"/>
<text transform="translate(27.7 460.14) rotate(-90) scale(0.9 1)" font-size="7.3" text-anchor="middle" fill="#222222" stroke="#222222" stroke-width="0.12">0.2</text>
<line x1="37.9" y1="422.78" x2="33.4" y2="422.78" stroke="#5e5e5e" stroke-width="1.1"/>
<text transform="translate(27.7 422.78) rotate(-90) scale(0.9 1)" font-size="7.3" text-anchor="middle" fill="#222222" stroke="#222222" stroke-width="0.12">0.4</text>
<line x1="37.9" y1="385.42" x2="33.4" y2="385.42" stroke="#5e5e5e" stroke-width="1.1"/>
<text transform="translate(27.7 385.42) rotate(-90) scale(0.9 1)" font-size="7.3" text-anchor="middle" fill="#222222" stroke="#222222" stroke-width="0.12">0.6</text>
<line x1="37.9" y1="348.06" x2="33.4" y2="348.06" stroke="#5e5e5e" stroke-width="1.1"/>
<text transform="translate(27.7 348.06) rotate(-90) scale(0.9 1)" font-size="7.3" text-anchor="middle" fill="#222222" stroke="#222222" stroke-width="0.12">0.8</text>
<line x1="37.9" y1="310.7" x2="33.4" y2="310.7" stroke="#5e5e5e" stroke-width="1.1"/>
<text transform="translate(27.7 310.7) rotate(-90) scale(0.9 1)" font-size="7.3" text-anchor="middle" fill="#222222" stroke="#222222" stroke-width="0.12">1.0</text>
<text transform="translate(151 537.5) scale(0.9 1)" font-size="7.5" text-anchor="middle" fill="#222222" stroke="#222222" stroke-width="0.12">x</text>
<text transform="translate(10.8 404) rotate(-90) scale(0.9 1)" font-size="7.5" text-anchor="middle" fill="#222222" stroke="#222222" stroke-width="0.12">S(x)</text>
<rect x="179.4" y="311.5" width="76.8" height="74" fill="#ffffff" stroke="#3a3a3a" stroke-width="0.9"/>
<line x1="186.5" y1="320.8" x2="201" y2="320.8" stroke="#000000" stroke-width="1.4"/>
<text transform="translate(207.3 323.6) scale(0.94 1)" font-size="8.1" fill="#222" stroke="#222" stroke-width="0.2">Empirical-Rel</text>
<line x1="186.5" y1="329.93" x2="201" y2="329.93" stroke="#DF536B" stroke-width="1.4"/>
<text transform="translate(207.3 332.73) scale(0.94 1)" font-size="8.1" fill="#222" stroke="#222" stroke-width="0.2">OLiP</text>
<line x1="186.5" y1="339.06" x2="201" y2="339.06" stroke="#61D04F" stroke-width="1.4"/>
<text transform="translate(207.3 341.86) scale(0.94 1)" font-size="8.1" fill="#222" stroke="#222" stroke-width="0.2">OGE</text>
<line x1="186.5" y1="348.19" x2="201" y2="348.19" stroke="#2297E6" stroke-width="1.4"/>
<text transform="translate(207.3 350.99) scale(0.94 1)" font-size="8.1" fill="#222" stroke="#222" stroke-width="0.2">OEPL</text>
<line x1="186.5" y1="357.32" x2="201" y2="357.32" stroke="#28E2E5" stroke-width="1.4"/>
<text transform="translate(207.3 360.12) scale(0.94 1)" font-size="8.1" fill="#222" stroke="#222" stroke-width="0.2">PD</text>
<line x1="186.5" y1="366.45" x2="201" y2="366.45" stroke="#CD0BBC" stroke-width="1.4"/>
<text transform="translate(207.3 369.25) scale(0.94 1)" font-size="8.1" fill="#222" stroke="#222" stroke-width="0.2">WE</text>
<line x1="186.5" y1="375.58" x2="201" y2="375.58" stroke="#F5C710" stroke-width="1.4"/>
<text transform="translate(207.3 378.38) scale(0.94 1)" font-size="8.1" fill="#222" stroke="#222" stroke-width="0.2">LD</text>
<g clip-path="url(#c4)">
<line x1="328" y1="303.9" x2="328" y2="505.2" stroke="#c4c4c4" stroke-width="0.8" stroke-dasharray="0.9 2.1"/>
<line x1="319.6" y1="497.5" x2="546" y2="497.5" stroke="#c4c4c4" stroke-width="0.8" stroke-dasharray="0.9 2.1"/>
<line x1="369.92" y1="303.9" x2="369.92" y2="505.2" stroke="#c4c4c4" stroke-width="0.8" stroke-dasharray="0.9 2.1"/>
<line x1="319.6" y1="460.14" x2="546" y2="460.14" stroke="#c4c4c4" stroke-width="0.8" stroke-dasharray="0.9 2.1"/>
<line x1="411.84" y1="303.9" x2="411.84" y2="505.2" stroke="#c4c4c4" stroke-width="0.8" stroke-dasharray="0.9 2.1"/>
<line x1="319.6" y1="422.78" x2="546" y2="422.78" stroke="#c4c4c4" stroke-width="0.8" stroke-dasharray="0.9 2.1"/>
<line x1="453.76" y1="303.9" x2="453.76" y2="505.2" stroke="#c4c4c4" stroke-width="0.8" stroke-dasharray="0.9 2.1"/>
<line x1="319.6" y1="385.42" x2="546" y2="385.42" stroke="#c4c4c4" stroke-width="0.8" stroke-dasharray="0.9 2.1"/>
<line x1="495.68" y1="303.9" x2="495.68" y2="505.2" stroke="#c4c4c4" stroke-width="0.8" stroke-dasharray="0.9 2.1"/>
<line x1="319.6" y1="348.06" x2="546" y2="348.06" stroke="#c4c4c4" stroke-width="0.8" stroke-dasharray="0.9 2.1"/>
<line x1="537.6" y1="303.9" x2="537.6" y2="505.2" stroke="#c4c4c4" stroke-width="0.8" stroke-dasharray="0.9 2.1"/>
<line x1="319.6" y1="310.7" x2="546" y2="310.7" stroke="#c4c4c4" stroke-width="0.8" stroke-dasharray="0.9 2.1"/>
<path d="M334.16,487.56L340.33,487.56L346.49,478.21L352.66,478.21L358.82,460.67L364.99,460.67L371.15,460.67L377.32,452.77L383.48,452.77L389.65,452.77L395.81,445.76L401.98,445.76L408.14,432.89L414.31,426.76L420.47,426.76L426.64,421.2L432.8,415.94L438.96,410.97L445.13,410.97L451.29,406.58L457.46,386.12L463.62,378.52L469.79,378.52L475.95,368.87L482.12,365.95L488.28,363.32L494.45,358.64L500.61,354.55L506.78,349.29L512.94,337.59L519.11,324.73L525.27,322.98L531.44,314.21L537.6,310.7" fill="none" stroke="#DF536B" stroke-width="1.3" stroke-linejoin="round" stroke-linecap="butt"/>
<line x1="328" y1="497.5" x2="537.6" y2="310.7" stroke="#3a3a3a" stroke-width="1.0" stroke-dasharray="4.2 2.6"/>
</g>
<rect x="319.6" y="303.9" width="226.4" height="201.3" fill="none" stroke="#5e5e5e" stroke-width="1.1"/>
<line x1="328" y1="505.2" x2="328" y2="509.5" stroke="#5e5e5e" stroke-width="1.1"/>
<text transform="translate(328 520.5) scale(0.9 1)" font-size="7.7" text-anchor="middle" fill="#222222" stroke="#222222" stroke-width="0.12">0.0</text>
<line x1="369.92" y1="505.2" x2="369.92" y2="509.5" stroke="#5e5e5e" stroke-width="1.1"/>
<text transform="translate(369.92 520.5) scale(0.9 1)" font-size="7.7" text-anchor="middle" fill="#222222" stroke="#222222" stroke-width="0.12">0.2</text>
<line x1="411.84" y1="505.2" x2="411.84" y2="509.5" stroke="#5e5e5e" stroke-width="1.1"/>
<text transform="translate(411.84 520.5) scale(0.9 1)" font-size="7.7" text-anchor="middle" fill="#222222" stroke="#222222" stroke-width="0.12">0.4</text>
<line x1="453.76" y1="505.2" x2="453.76" y2="509.5" stroke="#5e5e5e" stroke-width="1.1"/>
<text transform="translate(453.76 520.5) scale(0.9 1)" font-size="7.7" text-anchor="middle" fill="#222222" stroke="#222222" stroke-width="0.12">0.6</text>
<line x1="495.68" y1="505.2" x2="495.68" y2="509.5" stroke="#5e5e5e" stroke-width="1.1"/>
<text transform="translate(495.68 520.5) scale(0.9 1)" font-size="7.7" text-anchor="middle" fill="#222222" stroke="#222222" stroke-width="0.12">0.8</text>
<line x1="537.6" y1="505.2" x2="537.6" y2="509.5" stroke="#5e5e5e" stroke-width="1.1"/>
<text transform="translate(537.6 520.5) scale(0.9 1)" font-size="7.7" text-anchor="middle" fill="#222222" stroke="#222222" stroke-width="0.12">1.0</text>
<line x1="319.6" y1="497.5" x2="315.1" y2="497.5" stroke="#5e5e5e" stroke-width="1.1"/>
<text transform="translate(309.4 497.5) rotate(-90) scale(0.9 1)" font-size="7.3" text-anchor="middle" fill="#222222" stroke="#222222" stroke-width="0.12">0.0</text>
<line x1="319.6" y1="460.14" x2="315.1" y2="460.14" stroke="#5e5e5e" stroke-width="1.1"/>
<text transform="translate(309.4 460.14) rotate(-90) scale(0.9 1)" font-size="7.3" text-anchor="middle" fill="#222222" stroke="#222222" stroke-width="0.12">0.2</text>
<line x1="319.6" y1="422.78" x2="315.1" y2="422.78" stroke="#5e5e5e" stroke-width="1.1"/>
<text transform="translate(309.4 422.78) rotate(-90) scale(0.9 1)" font-size="7.3" text-anchor="middle" fill="#222222" stroke="#222222" stroke-width="0.12">0.4</text>
<line x1="319.6" y1="385.42" x2="315.1" y2="385.42" stroke="#5e5e5e" stroke-width="1.1"/>
<text transform="translate(309.4 385.42) rotate(-90) scale(0.9 1)" font-size="7.3" text-anchor="middle" fill="#222222" stroke="#222222" stroke-width="0.12">0.6</text>
<line x1="319.6" y1="348.06" x2="315.1" y2="348.06" stroke="#5e5e5e" stroke-width="1.1"/>
<text transform="translate(309.4 348.06) rotate(-90) scale(0.9 1)" font-size="7.3" text-anchor="middle" fill="#222222" stroke="#222222" stroke-width="0.12">0.8</text>
<line x1="319.6" y1="310.7" x2="315.1" y2="310.7" stroke="#5e5e5e" stroke-width="1.1"/>
<text transform="translate(309.4 310.7) rotate(-90) scale(0.9 1)" font-size="7.3" text-anchor="middle" fill="#222222" stroke="#222222" stroke-width="0.12">1.0</text>
<text transform="translate(432.5 537.5) scale(0.9 1)" font-size="7.5" text-anchor="middle" fill="#222222" stroke="#222222" stroke-width="0.12">i/n</text>
<text transform="translate(292 404) rotate(-90) scale(0.9 1)" font-size="7.5" text-anchor="middle" fill="#222222" stroke="#222222" stroke-width="0.12">T(i/n)</text>
</svg>
</body></html>
